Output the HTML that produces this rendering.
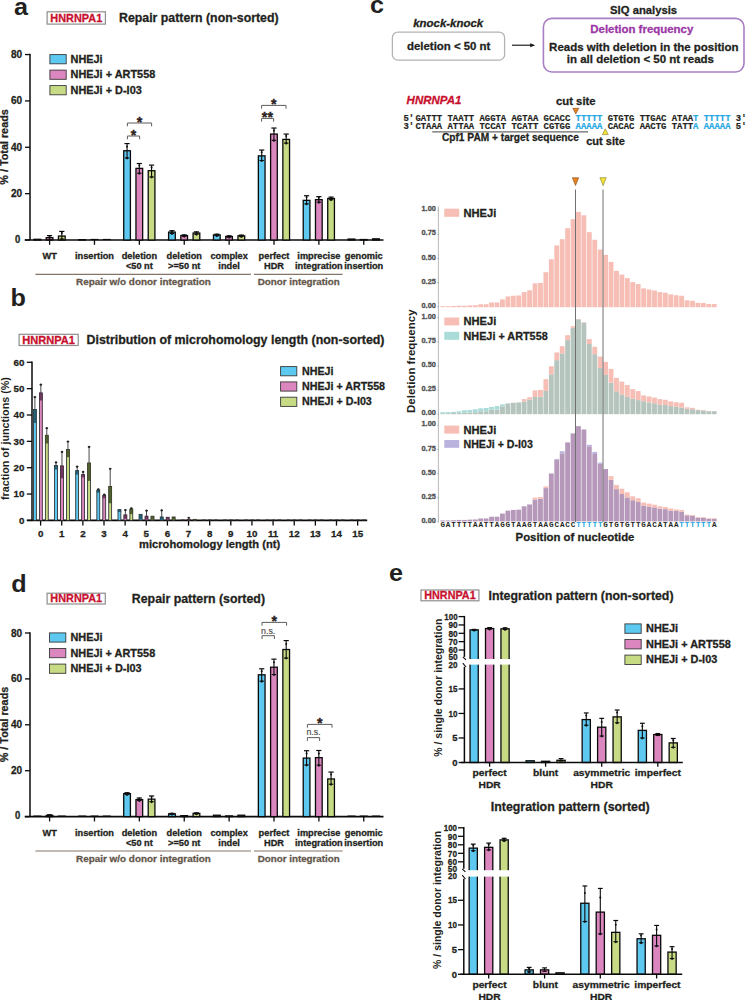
<!DOCTYPE html>
<html><head><meta charset="utf-8"><style>
html,body{margin:0;padding:0;background:#fff;}
svg{display:block;}

</style></head><body>
<svg width="751" height="1000" viewBox="0 0 751 1000">
<rect x="0" y="0" width="751" height="1000" fill="#fff"/>
<text transform="translate(14.00,14.60) scale(1.05,1)" font-size="24" font-weight="bold" fill="#231f20" text-anchor="start" font-family="Liberation Sans">a</text>
<text transform="translate(10.60,306.00) scale(1.05,1)" font-size="24" font-weight="bold" fill="#231f20" text-anchor="start" font-family="Liberation Sans">b</text>
<text transform="translate(370.00,13.20) scale(1.05,1)" font-size="24" font-weight="bold" fill="#231f20" text-anchor="start" font-family="Liberation Sans">c</text>
<text transform="translate(11.20,592.00) scale(1.05,1)" font-size="24" font-weight="bold" fill="#231f20" text-anchor="start" font-family="Liberation Sans">d</text>
<text transform="translate(389.00,581.20) scale(1.05,1)" font-size="24" font-weight="bold" fill="#231f20" text-anchor="start" font-family="Liberation Sans">e</text>
<line x1="30.00" y1="53.86" x2="30.00" y2="240.00" stroke="#0a0a0a" stroke-width="1.5" />
<line x1="25.00" y1="240.00" x2="30.00" y2="240.00" stroke="#0a0a0a" stroke-width="1.3" />
<text transform="translate(20.40,242.80) scale(0.95,1)" font-size="10.0" font-weight="bold" fill="#231f20" text-anchor="end" font-family="Liberation Sans" stroke="#231f20" stroke-width="0.28">0</text>
<line x1="25.00" y1="193.64" x2="30.00" y2="193.64" stroke="#0a0a0a" stroke-width="1.3" />
<text transform="translate(22.20,197.14) scale(1.05,1)" font-size="10.0" font-weight="bold" fill="#231f20" text-anchor="end" font-family="Liberation Sans" stroke="#231f20" stroke-width="0.28" textLength="10.67" lengthAdjust="spacingAndGlyphs">20</text>
<line x1="25.00" y1="147.28" x2="30.00" y2="147.28" stroke="#0a0a0a" stroke-width="1.3" />
<text transform="translate(22.20,150.78) scale(1.05,1)" font-size="10.0" font-weight="bold" fill="#231f20" text-anchor="end" font-family="Liberation Sans" stroke="#231f20" stroke-width="0.28" textLength="10.67" lengthAdjust="spacingAndGlyphs">40</text>
<line x1="25.00" y1="100.92" x2="30.00" y2="100.92" stroke="#0a0a0a" stroke-width="1.3" />
<text transform="translate(22.20,104.42) scale(1.05,1)" font-size="10.0" font-weight="bold" fill="#231f20" text-anchor="end" font-family="Liberation Sans" stroke="#231f20" stroke-width="0.28" textLength="10.67" lengthAdjust="spacingAndGlyphs">60</text>
<line x1="25.00" y1="54.56" x2="30.00" y2="54.56" stroke="#0a0a0a" stroke-width="1.3" />
<text transform="translate(22.20,58.06) scale(1.05,1)" font-size="10.0" font-weight="bold" fill="#231f20" text-anchor="end" font-family="Liberation Sans" stroke="#231f20" stroke-width="0.28" textLength="10.67" lengthAdjust="spacingAndGlyphs">80</text>
<line x1="24.70" y1="240.00" x2="383.50" y2="240.00" stroke="#0a0a0a" stroke-width="1.6" />
<line x1="49.60" y1="240.00" x2="49.60" y2="244.80" stroke="#0a0a0a" stroke-width="1.3" />
<line x1="94.48" y1="240.00" x2="94.48" y2="244.80" stroke="#0a0a0a" stroke-width="1.3" />
<line x1="139.36" y1="240.00" x2="139.36" y2="244.80" stroke="#0a0a0a" stroke-width="1.3" />
<line x1="184.24" y1="240.00" x2="184.24" y2="244.80" stroke="#0a0a0a" stroke-width="1.3" />
<line x1="229.12" y1="240.00" x2="229.12" y2="244.80" stroke="#0a0a0a" stroke-width="1.3" />
<line x1="274.00" y1="240.00" x2="274.00" y2="244.80" stroke="#0a0a0a" stroke-width="1.3" />
<line x1="318.88" y1="240.00" x2="318.88" y2="244.80" stroke="#0a0a0a" stroke-width="1.3" />
<line x1="363.76" y1="240.00" x2="363.76" y2="244.80" stroke="#0a0a0a" stroke-width="1.3" />
<text transform="translate(49.60,259.00) scale(1.05,1)" font-size="8.8" font-weight="bold" fill="#231f20" text-anchor="middle" font-family="Liberation Sans" stroke="#231f20" stroke-width="0.28">WT</text>
<text transform="translate(94.48,259.00) scale(1.05,1)" font-size="8.8" font-weight="bold" fill="#231f20" text-anchor="middle" font-family="Liberation Sans" stroke="#231f20" stroke-width="0.28">insertion</text>
<text transform="translate(139.36,259.00) scale(1.05,1)" font-size="8.8" font-weight="bold" fill="#231f20" text-anchor="middle" font-family="Liberation Sans" stroke="#231f20" stroke-width="0.28">deletion</text>
<text transform="translate(139.36,269.40) scale(1.05,1)" font-size="8.8" font-weight="bold" fill="#231f20" text-anchor="middle" font-family="Liberation Sans" stroke="#231f20" stroke-width="0.28">&lt;50 nt</text>
<text transform="translate(184.24,259.00) scale(1.05,1)" font-size="8.8" font-weight="bold" fill="#231f20" text-anchor="middle" font-family="Liberation Sans" stroke="#231f20" stroke-width="0.28">deletion</text>
<text transform="translate(184.24,269.40) scale(1.05,1)" font-size="8.8" font-weight="bold" fill="#231f20" text-anchor="middle" font-family="Liberation Sans" stroke="#231f20" stroke-width="0.28">&gt;=50 nt</text>
<text transform="translate(229.12,259.00) scale(1.05,1)" font-size="8.8" font-weight="bold" fill="#231f20" text-anchor="middle" font-family="Liberation Sans" stroke="#231f20" stroke-width="0.28">complex</text>
<text transform="translate(229.12,269.40) scale(1.05,1)" font-size="8.8" font-weight="bold" fill="#231f20" text-anchor="middle" font-family="Liberation Sans" stroke="#231f20" stroke-width="0.28">indel</text>
<text transform="translate(274.00,259.00) scale(1.05,1)" font-size="8.8" font-weight="bold" fill="#231f20" text-anchor="middle" font-family="Liberation Sans" stroke="#231f20" stroke-width="0.28">perfect</text>
<text transform="translate(274.00,269.40) scale(1.05,1)" font-size="8.8" font-weight="bold" fill="#231f20" text-anchor="middle" font-family="Liberation Sans" stroke="#231f20" stroke-width="0.28">HDR</text>
<text transform="translate(318.88,259.00) scale(1.05,1)" font-size="8.8" font-weight="bold" fill="#231f20" text-anchor="middle" font-family="Liberation Sans" stroke="#231f20" stroke-width="0.28">imprecise</text>
<text transform="translate(318.88,269.40) scale(1.05,1)" font-size="8.8" font-weight="bold" fill="#231f20" text-anchor="middle" font-family="Liberation Sans" stroke="#231f20" stroke-width="0.28">integration</text>
<text transform="translate(363.76,259.00) scale(1.05,1)" font-size="8.8" font-weight="bold" fill="#231f20" text-anchor="middle" font-family="Liberation Sans" stroke="#231f20" stroke-width="0.28">genomic</text>
<text transform="translate(363.76,269.40) scale(1.05,1)" font-size="8.8" font-weight="bold" fill="#231f20" text-anchor="middle" font-family="Liberation Sans" stroke="#231f20" stroke-width="0.28">insertion</text>
<line x1="35.40" y1="274.40" x2="250.80" y2="274.40" stroke="#837567" stroke-width="1.2" />
<line x1="254.00" y1="274.40" x2="342.60" y2="274.40" stroke="#837567" stroke-width="1.2" />
<text transform="translate(143.40,285.20) scale(1.05,1)" font-size="9.6" font-weight="bold" fill="#64574b" text-anchor="middle" font-family="Liberation Sans" stroke="#64574b" stroke-width="0.28" textLength="128.38" lengthAdjust="spacingAndGlyphs">Repair w/o donor integration</text>
<text transform="translate(298.70,285.20) scale(1.05,1)" font-size="9.6" font-weight="bold" fill="#64574b" text-anchor="middle" font-family="Liberation Sans" stroke="#64574b" stroke-width="0.28" textLength="78.19" lengthAdjust="spacingAndGlyphs">Donor integration</text>
<rect x="33.95" y="239.30" width="6.70" height="0.70" fill="#5dc9f0" stroke="#0a0a0a" stroke-width="1.3" />
<rect x="46.20" y="237.68" width="6.70" height="2.32" fill="#db86bf" stroke="#0a0a0a" stroke-width="1.3" />
<line x1="49.55" y1="235.60" x2="49.55" y2="239.54" stroke="#0a0a0a" stroke-width="1.1" />
<line x1="46.95" y1="235.60" x2="52.15" y2="235.60" stroke="#0a0a0a" stroke-width="1.2" />
<line x1="47.35" y1="239.54" x2="51.75" y2="239.54" stroke="#0a0a0a" stroke-width="1.1" />
<circle cx="49.55" cy="239.84" r="1.15" fill="#111"/>
<circle cx="49.55" cy="236.38" r="1.0" fill="#111"/>
<rect x="58.45" y="236.06" width="6.70" height="3.94" fill="#c7db84" stroke="#0a0a0a" stroke-width="1.3" />
<line x1="61.80" y1="231.42" x2="61.80" y2="239.07" stroke="#0a0a0a" stroke-width="1.1" />
<line x1="59.20" y1="231.42" x2="64.40" y2="231.42" stroke="#0a0a0a" stroke-width="1.2" />
<line x1="59.60" y1="239.07" x2="64.00" y2="239.07" stroke="#0a0a0a" stroke-width="1.1" />
<circle cx="61.80" cy="239.37" r="1.15" fill="#111"/>
<circle cx="61.80" cy="232.95" r="1.0" fill="#111"/>
<rect x="78.83" y="239.65" width="6.70" height="0.35" fill="#5dc9f0" stroke="#0a0a0a" stroke-width="1.3" />
<line x1="90.48" y1="239.50" x2="98.48" y2="239.50" stroke="#0a0a0a" stroke-width="1.2" />
<line x1="102.73" y1="239.50" x2="110.73" y2="239.50" stroke="#0a0a0a" stroke-width="1.2" />
<rect x="123.71" y="150.76" width="6.70" height="89.24" fill="#5dc9f0" stroke="#0a0a0a" stroke-width="1.3" />
<line x1="127.06" y1="143.57" x2="127.06" y2="157.94" stroke="#0a0a0a" stroke-width="1.1" />
<line x1="124.46" y1="143.57" x2="129.66" y2="143.57" stroke="#0a0a0a" stroke-width="1.2" />
<line x1="124.86" y1="157.94" x2="129.26" y2="157.94" stroke="#0a0a0a" stroke-width="1.1" />
<circle cx="127.06" cy="158.24" r="1.15" fill="#111"/>
<circle cx="127.06" cy="146.45" r="1.0" fill="#111"/>
<rect x="135.96" y="168.37" width="6.70" height="71.63" fill="#db86bf" stroke="#0a0a0a" stroke-width="1.3" />
<line x1="139.31" y1="163.51" x2="139.31" y2="173.24" stroke="#0a0a0a" stroke-width="1.1" />
<line x1="136.71" y1="163.51" x2="141.91" y2="163.51" stroke="#0a0a0a" stroke-width="1.2" />
<line x1="137.11" y1="173.24" x2="141.51" y2="173.24" stroke="#0a0a0a" stroke-width="1.1" />
<circle cx="139.31" cy="173.54" r="1.15" fill="#111"/>
<circle cx="139.31" cy="165.45" r="1.0" fill="#111"/>
<rect x="148.21" y="170.69" width="6.70" height="69.31" fill="#c7db84" stroke="#0a0a0a" stroke-width="1.3" />
<line x1="151.56" y1="165.13" x2="151.56" y2="176.95" stroke="#0a0a0a" stroke-width="1.1" />
<line x1="148.96" y1="165.13" x2="154.16" y2="165.13" stroke="#0a0a0a" stroke-width="1.2" />
<line x1="149.36" y1="176.95" x2="153.76" y2="176.95" stroke="#0a0a0a" stroke-width="1.1" />
<circle cx="151.56" cy="177.25" r="1.15" fill="#111"/>
<circle cx="151.56" cy="167.49" r="1.0" fill="#111"/>
<rect x="168.59" y="232.12" width="6.70" height="7.88" fill="#5dc9f0" stroke="#0a0a0a" stroke-width="1.3" />
<line x1="171.94" y1="230.73" x2="171.94" y2="233.51" stroke="#0a0a0a" stroke-width="1.1" />
<line x1="169.34" y1="230.73" x2="174.54" y2="230.73" stroke="#0a0a0a" stroke-width="1.2" />
<line x1="169.74" y1="233.51" x2="174.14" y2="233.51" stroke="#0a0a0a" stroke-width="1.1" />
<circle cx="171.94" cy="233.81" r="1.15" fill="#111"/>
<circle cx="171.94" cy="231.28" r="1.0" fill="#111"/>
<rect x="180.84" y="235.60" width="6.70" height="4.40" fill="#db86bf" stroke="#0a0a0a" stroke-width="1.3" />
<line x1="184.19" y1="234.90" x2="184.19" y2="236.29" stroke="#0a0a0a" stroke-width="1.1" />
<line x1="181.59" y1="234.90" x2="186.79" y2="234.90" stroke="#0a0a0a" stroke-width="1.2" />
<line x1="181.99" y1="236.29" x2="186.39" y2="236.29" stroke="#0a0a0a" stroke-width="1.1" />
<circle cx="184.19" cy="236.59" r="1.15" fill="#111"/>
<circle cx="184.19" cy="235.18" r="1.0" fill="#111"/>
<rect x="193.09" y="233.05" width="6.70" height="6.95" fill="#c7db84" stroke="#0a0a0a" stroke-width="1.3" />
<line x1="196.44" y1="231.89" x2="196.44" y2="234.21" stroke="#0a0a0a" stroke-width="1.1" />
<line x1="193.84" y1="231.89" x2="199.04" y2="231.89" stroke="#0a0a0a" stroke-width="1.2" />
<line x1="194.24" y1="234.21" x2="198.64" y2="234.21" stroke="#0a0a0a" stroke-width="1.1" />
<circle cx="196.44" cy="234.51" r="1.15" fill="#111"/>
<circle cx="196.44" cy="232.35" r="1.0" fill="#111"/>
<rect x="213.47" y="234.90" width="6.70" height="5.10" fill="#5dc9f0" stroke="#0a0a0a" stroke-width="1.3" />
<line x1="216.82" y1="234.21" x2="216.82" y2="235.60" stroke="#0a0a0a" stroke-width="1.1" />
<line x1="214.22" y1="234.21" x2="219.42" y2="234.21" stroke="#0a0a0a" stroke-width="1.2" />
<line x1="214.62" y1="235.60" x2="219.02" y2="235.60" stroke="#0a0a0a" stroke-width="1.1" />
<circle cx="216.82" cy="235.90" r="1.15" fill="#111"/>
<circle cx="216.82" cy="234.48" r="1.0" fill="#111"/>
<rect x="225.72" y="236.52" width="6.70" height="3.48" fill="#db86bf" stroke="#0a0a0a" stroke-width="1.3" />
<line x1="229.07" y1="235.83" x2="229.07" y2="237.22" stroke="#0a0a0a" stroke-width="1.1" />
<line x1="226.47" y1="235.83" x2="231.67" y2="235.83" stroke="#0a0a0a" stroke-width="1.2" />
<line x1="226.87" y1="237.22" x2="231.27" y2="237.22" stroke="#0a0a0a" stroke-width="1.1" />
<circle cx="229.07" cy="237.52" r="1.15" fill="#111"/>
<circle cx="229.07" cy="236.11" r="1.0" fill="#111"/>
<rect x="237.97" y="235.83" width="6.70" height="4.17" fill="#c7db84" stroke="#0a0a0a" stroke-width="1.3" />
<line x1="241.32" y1="235.13" x2="241.32" y2="236.52" stroke="#0a0a0a" stroke-width="1.1" />
<line x1="238.72" y1="235.13" x2="243.92" y2="235.13" stroke="#0a0a0a" stroke-width="1.2" />
<line x1="239.12" y1="236.52" x2="243.52" y2="236.52" stroke="#0a0a0a" stroke-width="1.1" />
<circle cx="241.32" cy="236.82" r="1.15" fill="#111"/>
<circle cx="241.32" cy="235.41" r="1.0" fill="#111"/>
<rect x="258.35" y="155.86" width="6.70" height="84.14" fill="#5dc9f0" stroke="#0a0a0a" stroke-width="1.3" />
<line x1="261.70" y1="150.06" x2="261.70" y2="160.49" stroke="#0a0a0a" stroke-width="1.1" />
<line x1="259.10" y1="150.06" x2="264.30" y2="150.06" stroke="#0a0a0a" stroke-width="1.2" />
<line x1="259.50" y1="160.49" x2="263.90" y2="160.49" stroke="#0a0a0a" stroke-width="1.1" />
<circle cx="261.70" cy="160.79" r="1.15" fill="#111"/>
<circle cx="261.70" cy="152.15" r="1.0" fill="#111"/>
<rect x="270.60" y="134.07" width="6.70" height="105.93" fill="#db86bf" stroke="#0a0a0a" stroke-width="1.3" />
<line x1="273.95" y1="128.04" x2="273.95" y2="140.33" stroke="#0a0a0a" stroke-width="1.1" />
<line x1="271.35" y1="128.04" x2="276.55" y2="128.04" stroke="#0a0a0a" stroke-width="1.2" />
<line x1="271.75" y1="140.33" x2="276.15" y2="140.33" stroke="#0a0a0a" stroke-width="1.1" />
<circle cx="273.95" cy="140.63" r="1.15" fill="#111"/>
<circle cx="273.95" cy="130.50" r="1.0" fill="#111"/>
<rect x="282.85" y="139.40" width="6.70" height="100.60" fill="#c7db84" stroke="#0a0a0a" stroke-width="1.3" />
<line x1="286.20" y1="134.07" x2="286.20" y2="143.11" stroke="#0a0a0a" stroke-width="1.1" />
<line x1="283.60" y1="134.07" x2="288.80" y2="134.07" stroke="#0a0a0a" stroke-width="1.2" />
<line x1="284.00" y1="143.11" x2="288.40" y2="143.11" stroke="#0a0a0a" stroke-width="1.1" />
<circle cx="286.20" cy="143.41" r="1.15" fill="#111"/>
<circle cx="286.20" cy="135.88" r="1.0" fill="#111"/>
<rect x="303.23" y="200.36" width="6.70" height="39.64" fill="#5dc9f0" stroke="#0a0a0a" stroke-width="1.3" />
<line x1="306.58" y1="195.73" x2="306.58" y2="203.84" stroke="#0a0a0a" stroke-width="1.1" />
<line x1="303.98" y1="195.73" x2="309.18" y2="195.73" stroke="#0a0a0a" stroke-width="1.2" />
<line x1="304.38" y1="203.84" x2="308.78" y2="203.84" stroke="#0a0a0a" stroke-width="1.1" />
<circle cx="306.58" cy="204.14" r="1.15" fill="#111"/>
<circle cx="306.58" cy="197.35" r="1.0" fill="#111"/>
<rect x="315.48" y="199.67" width="6.70" height="40.33" fill="#db86bf" stroke="#0a0a0a" stroke-width="1.3" />
<line x1="318.83" y1="196.65" x2="318.83" y2="202.22" stroke="#0a0a0a" stroke-width="1.1" />
<line x1="316.23" y1="196.65" x2="321.43" y2="196.65" stroke="#0a0a0a" stroke-width="1.2" />
<line x1="316.63" y1="202.22" x2="321.03" y2="202.22" stroke="#0a0a0a" stroke-width="1.1" />
<circle cx="318.83" cy="202.52" r="1.15" fill="#111"/>
<circle cx="318.83" cy="197.77" r="1.0" fill="#111"/>
<rect x="327.73" y="198.51" width="6.70" height="41.49" fill="#c7db84" stroke="#0a0a0a" stroke-width="1.3" />
<line x1="331.08" y1="197.12" x2="331.08" y2="199.67" stroke="#0a0a0a" stroke-width="1.1" />
<line x1="328.48" y1="197.12" x2="333.68" y2="197.12" stroke="#0a0a0a" stroke-width="1.2" />
<line x1="328.88" y1="199.67" x2="333.28" y2="199.67" stroke="#0a0a0a" stroke-width="1.1" />
<circle cx="331.08" cy="199.97" r="1.15" fill="#111"/>
<circle cx="331.08" cy="197.63" r="1.0" fill="#111"/>
<rect x="348.11" y="239.07" width="6.70" height="0.93" fill="#5dc9f0" stroke="#0a0a0a" stroke-width="1.3" />
<rect x="360.36" y="239.54" width="6.70" height="0.46" fill="#db86bf" stroke="#0a0a0a" stroke-width="1.3" />
<rect x="372.61" y="238.84" width="6.70" height="1.16" fill="#c7db84" stroke="#0a0a0a" stroke-width="1.3" />
<polyline points="127.40,139.30 127.40,136.00 139.60,136.00 139.60,139.30" fill="none" stroke="#5c5c5c" stroke-width="1.0"/>
<text x="133.50" y="140.00" font-size="14.2" font-weight="bold" fill="#2b2222" text-anchor="middle" font-family="Liberation Sans" stroke="#2b2222" stroke-width="0.35">*</text>
<polyline points="127.40,126.30 127.40,123.00 151.60,123.00 151.60,126.30" fill="none" stroke="#5c5c5c" stroke-width="1.0"/>
<text x="139.50" y="127.00" font-size="14.2" font-weight="bold" fill="#2b2222" text-anchor="middle" font-family="Liberation Sans" stroke="#2b2222" stroke-width="0.35">*</text>
<polyline points="261.60,121.70 261.60,118.40 273.60,118.40 273.60,121.70" fill="none" stroke="#5c5c5c" stroke-width="1.0"/>
<text x="267.60" y="122.40" font-size="14.2" font-weight="bold" fill="#2b2222" text-anchor="middle" font-family="Liberation Sans" stroke="#2b2222" stroke-width="0.35" letter-spacing="0.4">**</text>
<polyline points="261.60,108.70 261.60,105.40 286.00,105.40 286.00,108.70" fill="none" stroke="#5c5c5c" stroke-width="1.0"/>
<text x="273.80" y="109.40" font-size="14.2" font-weight="bold" fill="#2b2222" text-anchor="middle" font-family="Liberation Sans" stroke="#2b2222" stroke-width="0.35">*</text>
<text transform="translate(8.2,146.98) rotate(-90)" font-size="10.6" font-weight="bold" fill="#231f20" stroke="#231f20" stroke-width="0.25" text-anchor="middle" font-family="Liberation Sans" textLength="75.5" lengthAdjust="spacingAndGlyphs">% / Total reads</text>
<rect x="47.10" y="11.80" width="58.30" height="12.30" fill="#fff" stroke="#8e8e8e" stroke-width="1.2" />
<text transform="translate(76.25,22.30) scale(1.05,1)" font-size="11.8" font-weight="bold" fill="#c8102e" text-anchor="middle" font-family="Liberation Sans" stroke="#c8102e" stroke-width="0.28" textLength="49.43" lengthAdjust="spacingAndGlyphs">HNRNPA1</text>
<text transform="translate(119.00,21.60) scale(1.05,1)" font-size="12.2" font-weight="bold" fill="#231f20" text-anchor="start" font-family="Liberation Sans" stroke="#231f20" stroke-width="0.28" textLength="152.00" lengthAdjust="spacingAndGlyphs">Repair pattern (non-sorted)</text>
<rect x="49.90" y="54.60" width="16.30" height="9.20" fill="#5dc9f0" stroke="#3a3a3a" stroke-width="0.9" />
<text transform="translate(70.50,62.70) scale(1.05,1)" font-size="10.4" font-weight="bold" fill="#231f20" text-anchor="start" font-family="Liberation Sans" stroke="#231f20" stroke-width="0.28">NHEJi</text>
<rect x="49.90" y="70.10" width="16.30" height="9.20" fill="#db86bf" stroke="#3a3a3a" stroke-width="0.9" />
<text transform="translate(70.50,78.20) scale(1.05,1)" font-size="10.4" font-weight="bold" fill="#231f20" text-anchor="start" font-family="Liberation Sans" stroke="#231f20" stroke-width="0.28">NHEJi + ART558</text>
<rect x="49.90" y="85.60" width="16.30" height="9.20" fill="#c7db84" stroke="#3a3a3a" stroke-width="0.9" />
<text transform="translate(70.50,93.70) scale(1.05,1)" font-size="10.4" font-weight="bold" fill="#231f20" text-anchor="start" font-family="Liberation Sans" stroke="#231f20" stroke-width="0.28">NHEJi + D-I03</text>
<line x1="32.00" y1="361.60" x2="32.00" y2="520.40" stroke="#0a0a0a" stroke-width="1.5" />
<line x1="26.80" y1="520.40" x2="32.00" y2="520.40" stroke="#0a0a0a" stroke-width="1.3" />
<text transform="translate(24.40,523.70) scale(1.05,1)" font-size="9.3" font-weight="bold" fill="#231f20" text-anchor="end" font-family="Liberation Sans" stroke="#231f20" stroke-width="0.28">0</text>
<line x1="26.80" y1="494.05" x2="32.00" y2="494.05" stroke="#0a0a0a" stroke-width="1.3" />
<text transform="translate(24.40,497.35) scale(1.05,1)" font-size="9.3" font-weight="bold" fill="#231f20" text-anchor="end" font-family="Liberation Sans" stroke="#231f20" stroke-width="0.28">10</text>
<line x1="26.80" y1="467.70" x2="32.00" y2="467.70" stroke="#0a0a0a" stroke-width="1.3" />
<text transform="translate(24.40,471.00) scale(1.05,1)" font-size="9.3" font-weight="bold" fill="#231f20" text-anchor="end" font-family="Liberation Sans" stroke="#231f20" stroke-width="0.28">20</text>
<line x1="26.80" y1="441.35" x2="32.00" y2="441.35" stroke="#0a0a0a" stroke-width="1.3" />
<text transform="translate(24.40,444.65) scale(1.05,1)" font-size="9.3" font-weight="bold" fill="#231f20" text-anchor="end" font-family="Liberation Sans" stroke="#231f20" stroke-width="0.28">30</text>
<line x1="26.80" y1="415.00" x2="32.00" y2="415.00" stroke="#0a0a0a" stroke-width="1.3" />
<text transform="translate(24.40,418.30) scale(1.05,1)" font-size="9.3" font-weight="bold" fill="#231f20" text-anchor="end" font-family="Liberation Sans" stroke="#231f20" stroke-width="0.28">40</text>
<line x1="26.80" y1="388.65" x2="32.00" y2="388.65" stroke="#0a0a0a" stroke-width="1.3" />
<text transform="translate(24.40,391.95) scale(1.05,1)" font-size="9.3" font-weight="bold" fill="#231f20" text-anchor="end" font-family="Liberation Sans" stroke="#231f20" stroke-width="0.28">50</text>
<line x1="26.80" y1="362.30" x2="32.00" y2="362.30" stroke="#0a0a0a" stroke-width="1.3" />
<text transform="translate(24.40,365.60) scale(1.05,1)" font-size="9.3" font-weight="bold" fill="#231f20" text-anchor="end" font-family="Liberation Sans" stroke="#231f20" stroke-width="0.28">60</text>
<line x1="26.90" y1="520.40" x2="367.20" y2="520.40" stroke="#0a0a0a" stroke-width="1.6" />
<line x1="40.60" y1="520.40" x2="40.60" y2="525.60" stroke="#0a0a0a" stroke-width="1.3" />
<text transform="translate(40.60,536.50) scale(1.05,1)" font-size="9.3" font-weight="bold" fill="#231f20" text-anchor="middle" font-family="Liberation Sans" stroke="#231f20" stroke-width="0.28">0</text>
<line x1="61.73" y1="520.40" x2="61.73" y2="525.60" stroke="#0a0a0a" stroke-width="1.3" />
<text transform="translate(61.73,536.50) scale(1.05,1)" font-size="9.3" font-weight="bold" fill="#231f20" text-anchor="middle" font-family="Liberation Sans" stroke="#231f20" stroke-width="0.28">1</text>
<line x1="82.87" y1="520.40" x2="82.87" y2="525.60" stroke="#0a0a0a" stroke-width="1.3" />
<text transform="translate(82.87,536.50) scale(1.05,1)" font-size="9.3" font-weight="bold" fill="#231f20" text-anchor="middle" font-family="Liberation Sans" stroke="#231f20" stroke-width="0.28">2</text>
<line x1="104.00" y1="520.40" x2="104.00" y2="525.60" stroke="#0a0a0a" stroke-width="1.3" />
<text transform="translate(104.00,536.50) scale(1.05,1)" font-size="9.3" font-weight="bold" fill="#231f20" text-anchor="middle" font-family="Liberation Sans" stroke="#231f20" stroke-width="0.28">3</text>
<line x1="125.14" y1="520.40" x2="125.14" y2="525.60" stroke="#0a0a0a" stroke-width="1.3" />
<text transform="translate(125.14,536.50) scale(1.05,1)" font-size="9.3" font-weight="bold" fill="#231f20" text-anchor="middle" font-family="Liberation Sans" stroke="#231f20" stroke-width="0.28">4</text>
<line x1="146.28" y1="520.40" x2="146.28" y2="525.60" stroke="#0a0a0a" stroke-width="1.3" />
<text transform="translate(146.28,536.50) scale(1.05,1)" font-size="9.3" font-weight="bold" fill="#231f20" text-anchor="middle" font-family="Liberation Sans" stroke="#231f20" stroke-width="0.28">5</text>
<line x1="167.41" y1="520.40" x2="167.41" y2="525.60" stroke="#0a0a0a" stroke-width="1.3" />
<text transform="translate(167.41,536.50) scale(1.05,1)" font-size="9.3" font-weight="bold" fill="#231f20" text-anchor="middle" font-family="Liberation Sans" stroke="#231f20" stroke-width="0.28">6</text>
<line x1="188.55" y1="520.40" x2="188.55" y2="525.60" stroke="#0a0a0a" stroke-width="1.3" />
<text transform="translate(188.55,536.50) scale(1.05,1)" font-size="9.3" font-weight="bold" fill="#231f20" text-anchor="middle" font-family="Liberation Sans" stroke="#231f20" stroke-width="0.28">7</text>
<line x1="209.68" y1="520.40" x2="209.68" y2="525.60" stroke="#0a0a0a" stroke-width="1.3" />
<text transform="translate(209.68,536.50) scale(1.05,1)" font-size="9.3" font-weight="bold" fill="#231f20" text-anchor="middle" font-family="Liberation Sans" stroke="#231f20" stroke-width="0.28">8</text>
<line x1="230.81" y1="520.40" x2="230.81" y2="525.60" stroke="#0a0a0a" stroke-width="1.3" />
<text transform="translate(230.81,536.50) scale(1.05,1)" font-size="9.3" font-weight="bold" fill="#231f20" text-anchor="middle" font-family="Liberation Sans" stroke="#231f20" stroke-width="0.28">9</text>
<line x1="251.95" y1="520.40" x2="251.95" y2="525.60" stroke="#0a0a0a" stroke-width="1.3" />
<text transform="translate(251.95,536.50) scale(1.05,1)" font-size="9.3" font-weight="bold" fill="#231f20" text-anchor="middle" font-family="Liberation Sans" stroke="#231f20" stroke-width="0.28">10</text>
<line x1="273.09" y1="520.40" x2="273.09" y2="525.60" stroke="#0a0a0a" stroke-width="1.3" />
<text transform="translate(273.09,536.50) scale(1.05,1)" font-size="9.3" font-weight="bold" fill="#231f20" text-anchor="middle" font-family="Liberation Sans" stroke="#231f20" stroke-width="0.28">11</text>
<line x1="294.22" y1="520.40" x2="294.22" y2="525.60" stroke="#0a0a0a" stroke-width="1.3" />
<text transform="translate(294.22,536.50) scale(1.05,1)" font-size="9.3" font-weight="bold" fill="#231f20" text-anchor="middle" font-family="Liberation Sans" stroke="#231f20" stroke-width="0.28">12</text>
<line x1="315.36" y1="520.40" x2="315.36" y2="525.60" stroke="#0a0a0a" stroke-width="1.3" />
<text transform="translate(315.36,536.50) scale(1.05,1)" font-size="9.3" font-weight="bold" fill="#231f20" text-anchor="middle" font-family="Liberation Sans" stroke="#231f20" stroke-width="0.28">13</text>
<line x1="336.49" y1="520.40" x2="336.49" y2="525.60" stroke="#0a0a0a" stroke-width="1.3" />
<text transform="translate(336.49,536.50) scale(1.05,1)" font-size="9.3" font-weight="bold" fill="#231f20" text-anchor="middle" font-family="Liberation Sans" stroke="#231f20" stroke-width="0.28">14</text>
<line x1="357.63" y1="520.40" x2="357.63" y2="525.60" stroke="#0a0a0a" stroke-width="1.3" />
<text transform="translate(357.63,536.50) scale(1.05,1)" font-size="9.3" font-weight="bold" fill="#231f20" text-anchor="middle" font-family="Liberation Sans" stroke="#231f20" stroke-width="0.28">15</text>
<text transform="translate(209.60,548.30) scale(1.05,1)" font-size="10.6" font-weight="bold" fill="#231f20" text-anchor="middle" font-family="Liberation Sans" stroke="#231f20" stroke-width="0.28" textLength="134.29" lengthAdjust="spacingAndGlyphs">microhomology length (nt)</text>
<text transform="translate(9.3,438.6) rotate(-90)" font-size="10.6" font-weight="bold" fill="#231f20" text-anchor="middle" font-family="Liberation Sans" textLength="123" lengthAdjust="spacingAndGlyphs">fraction of junctions (%)</text>
<rect x="33.45" y="409.47" width="2.90" height="110.93" fill="#5dc9f0" stroke="#222" stroke-width="0.8" />
<rect x="33.25" y="409.47" width="3.30" height="13.44" fill="#1f4e5e" stroke="none" stroke-width="1" opacity="0.85"/>
<line x1="34.90" y1="397.08" x2="34.90" y2="409.47" stroke="#333" stroke-width="0.9" />
<line x1="33.60" y1="397.08" x2="36.20" y2="397.08" stroke="#333" stroke-width="0.9" />
<circle cx="34.90" cy="397.08" r="1.1" fill="#222"/>
<rect x="39.40" y="392.87" width="2.90" height="127.53" fill="#db86bf" stroke="#222" stroke-width="0.8" />
<rect x="39.20" y="392.87" width="3.30" height="7.64" fill="#5a2c4d" stroke="none" stroke-width="1" opacity="0.85"/>
<line x1="40.85" y1="384.70" x2="40.85" y2="392.87" stroke="#333" stroke-width="0.9" />
<line x1="39.55" y1="384.70" x2="42.15" y2="384.70" stroke="#333" stroke-width="0.9" />
<circle cx="40.85" cy="384.70" r="1.1" fill="#222"/>
<rect x="45.35" y="435.29" width="2.90" height="85.11" fill="#c7db84" stroke="#222" stroke-width="0.8" />
<rect x="45.15" y="435.29" width="3.30" height="8.17" fill="#3c4a22" stroke="none" stroke-width="1" opacity="0.85"/>
<line x1="46.80" y1="428.17" x2="46.80" y2="435.29" stroke="#333" stroke-width="0.9" />
<line x1="45.50" y1="428.17" x2="48.10" y2="428.17" stroke="#333" stroke-width="0.9" />
<circle cx="46.80" cy="428.17" r="1.1" fill="#222"/>
<rect x="54.58" y="465.59" width="2.90" height="54.81" fill="#5dc9f0" stroke="#222" stroke-width="0.8" />
<rect x="54.38" y="465.59" width="3.30" height="3.95" fill="#1f4e5e" stroke="none" stroke-width="1" opacity="0.85"/>
<line x1="56.03" y1="462.43" x2="56.03" y2="465.59" stroke="#333" stroke-width="0.9" />
<line x1="54.73" y1="462.43" x2="57.33" y2="462.43" stroke="#333" stroke-width="0.9" />
<circle cx="56.03" cy="462.43" r="1.1" fill="#222"/>
<rect x="60.53" y="465.86" width="2.90" height="54.54" fill="#db86bf" stroke="#222" stroke-width="0.8" />
<rect x="60.33" y="465.86" width="3.30" height="12.38" fill="#5a2c4d" stroke="none" stroke-width="1" opacity="0.85"/>
<line x1="61.98" y1="451.89" x2="61.98" y2="465.86" stroke="#333" stroke-width="0.9" />
<line x1="60.69" y1="451.89" x2="63.28" y2="451.89" stroke="#333" stroke-width="0.9" />
<circle cx="61.98" cy="451.89" r="1.1" fill="#222"/>
<rect x="66.48" y="449.52" width="2.90" height="70.88" fill="#c7db84" stroke="#222" stroke-width="0.8" />
<rect x="66.28" y="449.52" width="3.30" height="7.64" fill="#3c4a22" stroke="none" stroke-width="1" opacity="0.85"/>
<line x1="67.94" y1="441.61" x2="67.94" y2="449.52" stroke="#333" stroke-width="0.9" />
<line x1="66.64" y1="441.61" x2="69.23" y2="441.61" stroke="#333" stroke-width="0.9" />
<circle cx="67.94" cy="441.61" r="1.1" fill="#222"/>
<rect x="75.72" y="470.60" width="2.90" height="49.80" fill="#5dc9f0" stroke="#222" stroke-width="0.8" />
<rect x="75.52" y="470.60" width="3.30" height="3.95" fill="#1f4e5e" stroke="none" stroke-width="1" opacity="0.85"/>
<line x1="77.17" y1="466.65" x2="77.17" y2="470.60" stroke="#333" stroke-width="0.9" />
<line x1="75.87" y1="466.65" x2="78.47" y2="466.65" stroke="#333" stroke-width="0.9" />
<circle cx="77.17" cy="466.65" r="1.1" fill="#222"/>
<rect x="81.67" y="474.55" width="2.90" height="45.85" fill="#db86bf" stroke="#222" stroke-width="0.8" />
<rect x="81.47" y="474.55" width="3.30" height="2.90" fill="#5a2c4d" stroke="none" stroke-width="1" opacity="0.85"/>
<line x1="83.12" y1="471.92" x2="83.12" y2="474.55" stroke="#333" stroke-width="0.9" />
<line x1="81.82" y1="471.92" x2="84.42" y2="471.92" stroke="#333" stroke-width="0.9" />
<circle cx="83.12" cy="471.92" r="1.1" fill="#222"/>
<rect x="87.62" y="462.96" width="2.90" height="57.44" fill="#c7db84" stroke="#222" stroke-width="0.8" />
<rect x="87.42" y="462.96" width="3.30" height="17.92" fill="#3c4a22" stroke="none" stroke-width="1" opacity="0.85"/>
<line x1="89.07" y1="446.88" x2="89.07" y2="462.96" stroke="#333" stroke-width="0.9" />
<line x1="87.77" y1="446.88" x2="90.37" y2="446.88" stroke="#333" stroke-width="0.9" />
<circle cx="89.07" cy="446.88" r="1.1" fill="#222"/>
<rect x="96.85" y="490.10" width="2.90" height="30.30" fill="#5dc9f0" stroke="#222" stroke-width="0.8" />
<rect x="96.65" y="490.10" width="3.30" height="2.63" fill="#1f4e5e" stroke="none" stroke-width="1" opacity="0.85"/>
<line x1="98.30" y1="489.31" x2="98.30" y2="490.10" stroke="#333" stroke-width="0.9" />
<line x1="97.00" y1="489.31" x2="99.60" y2="489.31" stroke="#333" stroke-width="0.9" />
<circle cx="98.30" cy="489.31" r="1.1" fill="#222"/>
<rect x="102.80" y="495.37" width="2.90" height="25.03" fill="#db86bf" stroke="#222" stroke-width="0.8" />
<rect x="102.60" y="495.37" width="3.30" height="2.90" fill="#5a2c4d" stroke="none" stroke-width="1" opacity="0.85"/>
<line x1="104.25" y1="494.58" x2="104.25" y2="495.37" stroke="#333" stroke-width="0.9" />
<line x1="102.95" y1="494.58" x2="105.55" y2="494.58" stroke="#333" stroke-width="0.9" />
<circle cx="104.25" cy="494.58" r="1.1" fill="#222"/>
<rect x="108.75" y="486.41" width="2.90" height="33.99" fill="#c7db84" stroke="#222" stroke-width="0.8" />
<rect x="108.55" y="486.41" width="3.30" height="16.86" fill="#3c4a22" stroke="none" stroke-width="1" opacity="0.85"/>
<line x1="110.20" y1="468.75" x2="110.20" y2="486.41" stroke="#333" stroke-width="0.9" />
<line x1="108.91" y1="468.75" x2="111.50" y2="468.75" stroke="#333" stroke-width="0.9" />
<circle cx="110.20" cy="468.75" r="1.1" fill="#222"/>
<rect x="117.99" y="509.60" width="2.90" height="10.80" fill="#5dc9f0" stroke="#222" stroke-width="0.8" />
<rect x="117.79" y="509.60" width="3.30" height="2.37" fill="#1f4e5e" stroke="none" stroke-width="1" opacity="0.85"/>
<rect x="123.94" y="514.87" width="2.90" height="5.53" fill="#db86bf" stroke="#222" stroke-width="0.8" />
<rect x="123.74" y="514.87" width="3.30" height="3.95" fill="#5a2c4d" stroke="none" stroke-width="1" opacity="0.85"/>
<line x1="125.39" y1="510.12" x2="125.39" y2="514.87" stroke="#333" stroke-width="0.9" />
<line x1="124.09" y1="510.12" x2="126.69" y2="510.12" stroke="#333" stroke-width="0.9" />
<circle cx="125.39" cy="510.12" r="1.1" fill="#222"/>
<rect x="129.89" y="509.07" width="2.90" height="11.33" fill="#c7db84" stroke="#222" stroke-width="0.8" />
<rect x="129.69" y="509.07" width="3.30" height="5.01" fill="#3c4a22" stroke="none" stroke-width="1" opacity="0.85"/>
<line x1="131.34" y1="508.28" x2="131.34" y2="509.07" stroke="#333" stroke-width="0.9" />
<line x1="130.04" y1="508.28" x2="132.64" y2="508.28" stroke="#333" stroke-width="0.9" />
<circle cx="131.34" cy="508.28" r="1.1" fill="#222"/>
<rect x="139.13" y="514.34" width="2.90" height="6.06" fill="#5dc9f0" stroke="#222" stroke-width="0.8" />
<rect x="138.93" y="514.34" width="3.30" height="5.27" fill="#1f4e5e" stroke="none" stroke-width="1" opacity="0.85"/>
<rect x="145.08" y="516.18" width="2.90" height="4.22" fill="#db86bf" stroke="#222" stroke-width="0.8" />
<rect x="144.88" y="516.18" width="3.30" height="3.43" fill="#5a2c4d" stroke="none" stroke-width="1" opacity="0.85"/>
<line x1="146.53" y1="510.65" x2="146.53" y2="516.18" stroke="#333" stroke-width="0.9" />
<line x1="145.22" y1="510.65" x2="147.83" y2="510.65" stroke="#333" stroke-width="0.9" />
<circle cx="146.53" cy="510.65" r="1.1" fill="#222"/>
<rect x="151.03" y="516.18" width="2.90" height="4.22" fill="#c7db84" stroke="#222" stroke-width="0.8" />
<rect x="150.83" y="516.18" width="3.30" height="3.69" fill="#3c4a22" stroke="none" stroke-width="1" opacity="0.85"/>
<rect x="160.26" y="516.97" width="2.90" height="3.43" fill="#5dc9f0" stroke="#222" stroke-width="0.8" />
<rect x="160.06" y="516.97" width="3.30" height="2.90" fill="#1f4e5e" stroke="none" stroke-width="1" opacity="0.85"/>
<line x1="161.71" y1="510.39" x2="161.71" y2="516.97" stroke="#333" stroke-width="0.9" />
<line x1="160.41" y1="510.39" x2="163.01" y2="510.39" stroke="#333" stroke-width="0.9" />
<circle cx="161.71" cy="510.39" r="1.1" fill="#222"/>
<rect x="166.21" y="517.24" width="2.90" height="3.16" fill="#db86bf" stroke="#222" stroke-width="0.8" />
<rect x="166.01" y="517.24" width="3.30" height="2.63" fill="#5a2c4d" stroke="none" stroke-width="1" opacity="0.85"/>
<rect x="172.16" y="516.97" width="2.90" height="3.43" fill="#c7db84" stroke="#222" stroke-width="0.8" />
<rect x="171.96" y="516.97" width="3.30" height="2.90" fill="#3c4a22" stroke="none" stroke-width="1" opacity="0.85"/>
<line x1="180.90" y1="519.80" x2="184.80" y2="519.80" stroke="#444" stroke-width="0.9" />
<rect x="187.35" y="519.35" width="2.90" height="1.05" fill="#db86bf" stroke="#222" stroke-width="0.8" />
<rect x="187.15" y="519.35" width="3.30" height="1.05" fill="#5a2c4d" stroke="none" stroke-width="1" opacity="0.85"/>
<line x1="188.80" y1="517.76" x2="188.80" y2="519.35" stroke="#333" stroke-width="0.9" />
<line x1="187.50" y1="517.76" x2="190.10" y2="517.76" stroke="#333" stroke-width="0.9" />
<circle cx="188.80" cy="517.76" r="1.1" fill="#222"/>
<rect x="193.30" y="519.35" width="2.90" height="1.05" fill="#c7db84" stroke="#222" stroke-width="0.8" />
<rect x="193.10" y="519.35" width="3.30" height="1.05" fill="#3c4a22" stroke="none" stroke-width="1" opacity="0.85"/>
<line x1="202.03" y1="519.80" x2="205.93" y2="519.80" stroke="#444" stroke-width="0.9" />
<line x1="207.98" y1="519.80" x2="211.88" y2="519.80" stroke="#444" stroke-width="0.9" />
<line x1="213.93" y1="519.80" x2="217.83" y2="519.80" stroke="#444" stroke-width="0.9" />
<line x1="223.17" y1="519.80" x2="227.07" y2="519.80" stroke="#444" stroke-width="0.9" />
<line x1="229.12" y1="519.80" x2="233.02" y2="519.80" stroke="#444" stroke-width="0.9" />
<line x1="235.06" y1="519.80" x2="238.97" y2="519.80" stroke="#444" stroke-width="0.9" />
<line x1="244.30" y1="519.80" x2="248.20" y2="519.80" stroke="#444" stroke-width="0.9" />
<line x1="250.25" y1="519.80" x2="254.15" y2="519.80" stroke="#444" stroke-width="0.9" />
<line x1="256.20" y1="519.80" x2="260.10" y2="519.80" stroke="#444" stroke-width="0.9" />
<line x1="265.44" y1="519.80" x2="269.34" y2="519.80" stroke="#444" stroke-width="0.9" />
<line x1="271.39" y1="519.80" x2="275.29" y2="519.80" stroke="#444" stroke-width="0.9" />
<line x1="277.34" y1="519.80" x2="281.24" y2="519.80" stroke="#444" stroke-width="0.9" />
<line x1="286.57" y1="519.80" x2="290.47" y2="519.80" stroke="#444" stroke-width="0.9" />
<line x1="292.52" y1="519.80" x2="296.42" y2="519.80" stroke="#444" stroke-width="0.9" />
<line x1="298.47" y1="519.80" x2="302.37" y2="519.80" stroke="#444" stroke-width="0.9" />
<line x1="307.71" y1="519.80" x2="311.61" y2="519.80" stroke="#444" stroke-width="0.9" />
<line x1="313.66" y1="519.80" x2="317.56" y2="519.80" stroke="#444" stroke-width="0.9" />
<line x1="319.61" y1="519.80" x2="323.50" y2="519.80" stroke="#444" stroke-width="0.9" />
<line x1="328.84" y1="519.80" x2="332.74" y2="519.80" stroke="#444" stroke-width="0.9" />
<line x1="334.79" y1="519.80" x2="338.69" y2="519.80" stroke="#444" stroke-width="0.9" />
<line x1="340.74" y1="519.80" x2="344.64" y2="519.80" stroke="#444" stroke-width="0.9" />
<line x1="349.98" y1="519.80" x2="353.88" y2="519.80" stroke="#444" stroke-width="0.9" />
<line x1="355.93" y1="519.80" x2="359.83" y2="519.80" stroke="#444" stroke-width="0.9" />
<line x1="361.88" y1="519.80" x2="365.78" y2="519.80" stroke="#444" stroke-width="0.9" />
<rect x="280.60" y="366.60" width="16.20" height="9.20" fill="#5dc9f0" stroke="#3a3a3a" stroke-width="0.9" />
<text transform="translate(302.00,374.70) scale(1.05,1)" font-size="10.2" font-weight="bold" fill="#231f20" text-anchor="start" font-family="Liberation Sans" stroke="#231f20" stroke-width="0.28">NHEJi</text>
<rect x="280.60" y="381.90" width="16.20" height="9.20" fill="#db86bf" stroke="#3a3a3a" stroke-width="0.9" />
<text transform="translate(302.00,390.00) scale(1.05,1)" font-size="10.2" font-weight="bold" fill="#231f20" text-anchor="start" font-family="Liberation Sans" stroke="#231f20" stroke-width="0.28">NHEJi + ART558</text>
<rect x="280.60" y="397.20" width="16.20" height="9.20" fill="#c7db84" stroke="#3a3a3a" stroke-width="0.9" />
<text transform="translate(302.00,405.30) scale(1.05,1)" font-size="10.2" font-weight="bold" fill="#231f20" text-anchor="start" font-family="Liberation Sans" stroke="#231f20" stroke-width="0.28">NHEJi + D-I03</text>
<rect x="19.10" y="334.30" width="59.10" height="11.20" fill="#fff" stroke="#8e8e8e" stroke-width="1.2" />
<text transform="translate(48.65,343.70) scale(1.05,1)" font-size="11.8" font-weight="bold" fill="#c8102e" text-anchor="middle" font-family="Liberation Sans" stroke="#c8102e" stroke-width="0.28" textLength="50.19" lengthAdjust="spacingAndGlyphs">HNRNPA1</text>
<text transform="translate(86.50,344.00) scale(1.05,1)" font-size="12.4" font-weight="bold" fill="#231f20" text-anchor="start" font-family="Liberation Sans" stroke="#231f20" stroke-width="0.28" textLength="283.81" lengthAdjust="spacingAndGlyphs">Distribution of microhomology length (non-sorted)</text>
<text transform="translate(413.20,27.30) scale(1.05,1)" font-size="10.6" font-weight="bold" fill="#231f20" text-anchor="start" font-family="Liberation Sans" stroke="#231f20" stroke-width="0.28" font-style="italic" textLength="66.67" lengthAdjust="spacingAndGlyphs">knock-knock</text>
<rect x="392.4" y="32.2" width="112.2" height="28" rx="5.5" fill="#fff" stroke="#b3b3b3" stroke-width="1.3"/>
<text transform="translate(448.70,50.00) scale(1.05,1)" font-size="11.4" font-weight="bold" fill="#231f20" text-anchor="middle" font-family="Liberation Sans" stroke="#231f20" stroke-width="0.28" textLength="79.43" lengthAdjust="spacingAndGlyphs">deletion &lt; 50 nt</text>
<line x1="512.00" y1="45.20" x2="532.50" y2="45.20" stroke="#0a0a0a" stroke-width="1.1" />
<path d="M535.2,45.2 L530.2,43.2 L530.2,47.2 Z" fill="#161616"/>
<text transform="translate(643.60,14.10) scale(1.05,1)" font-size="11.4" font-weight="bold" fill="#231f20" text-anchor="middle" font-family="Liberation Sans" stroke="#231f20" stroke-width="0.28" textLength="63.81" lengthAdjust="spacingAndGlyphs">SIQ analysis</text>
<rect x="543.4" y="18.4" width="200.6" height="53.6" rx="8.5" fill="#fff" stroke="#a97fc6" stroke-width="1.6"/>
<text transform="translate(641.80,33.30) scale(1.05,1)" font-size="11.4" font-weight="bold" fill="#9b36a6" text-anchor="middle" font-family="Liberation Sans" stroke="#9b36a6" stroke-width="0.28" textLength="98.10" lengthAdjust="spacingAndGlyphs">Deletion frequency</text>
<text transform="translate(643.75,50.90) scale(1.05,1)" font-size="11.4" font-weight="bold" fill="#231f20" text-anchor="middle" font-family="Liberation Sans" stroke="#231f20" stroke-width="0.28" textLength="180.29" lengthAdjust="spacingAndGlyphs">Reads with deletion in the position</text>
<text transform="translate(640.40,63.30) scale(1.05,1)" font-size="11.4" font-weight="bold" fill="#231f20" text-anchor="middle" font-family="Liberation Sans" stroke="#231f20" stroke-width="0.28" textLength="140.19" lengthAdjust="spacingAndGlyphs">in all deletion &lt; 50 nt reads</text>
<text transform="translate(406.60,103.50) scale(1.05,1)" font-size="11.8" font-weight="bold" fill="#c8102e" text-anchor="start" font-family="Liberation Sans" stroke="#c8102e" stroke-width="0.28" font-style="italic" textLength="52.19" lengthAdjust="spacingAndGlyphs">HNRNPA1</text>
<text transform="translate(575.80,104.80) scale(1.05,1)" font-size="10.8" font-weight="bold" fill="#231f20" text-anchor="middle" font-family="Liberation Sans" stroke="#231f20" stroke-width="0.28" textLength="37.71" lengthAdjust="spacingAndGlyphs">cut site</text>
<path d="M572.8,108.3 L578.8,108.3 L575.8,114 Z" fill="#e8821f" stroke="#6b3b0b" stroke-width="0.5"/>
<path d="M602.3,134.6 L608.3,134.6 L605.3,128.8 Z" fill="#f4e43a" stroke="#6b6010" stroke-width="0.5"/>
<text transform="translate(605.50,144.80) scale(1.05,1)" font-size="10.8" font-weight="bold" fill="#231f20" text-anchor="middle" font-family="Liberation Sans" stroke="#231f20" stroke-width="0.28" textLength="36.86" lengthAdjust="spacingAndGlyphs">cut site</text>
<text x="406.07" y="121.0" font-size="8.9" font-weight="bold" fill="#231f20" text-anchor="middle" font-family="Liberation Mono" stroke="#231f20" stroke-width="0.2">5</text>
<text x="411.41" y="121.0" font-size="8.9" font-weight="bold" fill="#231f20" text-anchor="middle" font-family="Liberation Mono" stroke="#231f20" stroke-width="0.2">'</text>
<text x="418.07" y="121.0" font-size="8.9" font-weight="bold" fill="#231f20" text-anchor="middle" font-family="Liberation Mono" stroke="#231f20" stroke-width="0.2">G</text>
<text x="423.41" y="121.0" font-size="8.9" font-weight="bold" fill="#231f20" text-anchor="middle" font-family="Liberation Mono" stroke="#231f20" stroke-width="0.2">A</text>
<text x="428.75" y="121.0" font-size="8.9" font-weight="bold" fill="#231f20" text-anchor="middle" font-family="Liberation Mono" stroke="#231f20" stroke-width="0.2">T</text>
<text x="434.09" y="121.0" font-size="8.9" font-weight="bold" fill="#231f20" text-anchor="middle" font-family="Liberation Mono" stroke="#231f20" stroke-width="0.2">T</text>
<text x="439.43" y="121.0" font-size="8.9" font-weight="bold" fill="#231f20" text-anchor="middle" font-family="Liberation Mono" stroke="#231f20" stroke-width="0.2">T</text>
<text x="450.11" y="121.0" font-size="8.9" font-weight="bold" fill="#231f20" text-anchor="middle" font-family="Liberation Mono" stroke="#231f20" stroke-width="0.2">T</text>
<text x="455.45" y="121.0" font-size="8.9" font-weight="bold" fill="#231f20" text-anchor="middle" font-family="Liberation Mono" stroke="#231f20" stroke-width="0.2">A</text>
<text x="460.79" y="121.0" font-size="8.9" font-weight="bold" fill="#231f20" text-anchor="middle" font-family="Liberation Mono" stroke="#231f20" stroke-width="0.2">A</text>
<text x="466.13" y="121.0" font-size="8.9" font-weight="bold" fill="#231f20" text-anchor="middle" font-family="Liberation Mono" stroke="#231f20" stroke-width="0.2">T</text>
<text x="471.47" y="121.0" font-size="8.9" font-weight="bold" fill="#231f20" text-anchor="middle" font-family="Liberation Mono" stroke="#231f20" stroke-width="0.2">T</text>
<text x="482.15" y="121.0" font-size="8.9" font-weight="bold" fill="#231f20" text-anchor="middle" font-family="Liberation Mono" stroke="#231f20" stroke-width="0.2">A</text>
<text x="487.49" y="121.0" font-size="8.9" font-weight="bold" fill="#231f20" text-anchor="middle" font-family="Liberation Mono" stroke="#231f20" stroke-width="0.2">G</text>
<text x="492.83" y="121.0" font-size="8.9" font-weight="bold" fill="#231f20" text-anchor="middle" font-family="Liberation Mono" stroke="#231f20" stroke-width="0.2">G</text>
<text x="498.17" y="121.0" font-size="8.9" font-weight="bold" fill="#231f20" text-anchor="middle" font-family="Liberation Mono" stroke="#231f20" stroke-width="0.2">T</text>
<text x="503.51" y="121.0" font-size="8.9" font-weight="bold" fill="#231f20" text-anchor="middle" font-family="Liberation Mono" stroke="#231f20" stroke-width="0.2">A</text>
<text x="514.19" y="121.0" font-size="8.9" font-weight="bold" fill="#231f20" text-anchor="middle" font-family="Liberation Mono" stroke="#231f20" stroke-width="0.2">A</text>
<text x="519.53" y="121.0" font-size="8.9" font-weight="bold" fill="#231f20" text-anchor="middle" font-family="Liberation Mono" stroke="#231f20" stroke-width="0.2">G</text>
<text x="524.87" y="121.0" font-size="8.9" font-weight="bold" fill="#231f20" text-anchor="middle" font-family="Liberation Mono" stroke="#231f20" stroke-width="0.2">T</text>
<text x="530.21" y="121.0" font-size="8.9" font-weight="bold" fill="#231f20" text-anchor="middle" font-family="Liberation Mono" stroke="#231f20" stroke-width="0.2">A</text>
<text x="535.55" y="121.0" font-size="8.9" font-weight="bold" fill="#231f20" text-anchor="middle" font-family="Liberation Mono" stroke="#231f20" stroke-width="0.2">A</text>
<text x="546.23" y="121.0" font-size="8.9" font-weight="bold" fill="#231f20" text-anchor="middle" font-family="Liberation Mono" stroke="#231f20" stroke-width="0.2">G</text>
<text x="551.57" y="121.0" font-size="8.9" font-weight="bold" fill="#231f20" text-anchor="middle" font-family="Liberation Mono" stroke="#231f20" stroke-width="0.2">C</text>
<text x="556.91" y="121.0" font-size="8.9" font-weight="bold" fill="#231f20" text-anchor="middle" font-family="Liberation Mono" stroke="#231f20" stroke-width="0.2">A</text>
<text x="562.25" y="121.0" font-size="8.9" font-weight="bold" fill="#231f20" text-anchor="middle" font-family="Liberation Mono" stroke="#231f20" stroke-width="0.2">C</text>
<text x="567.59" y="121.0" font-size="8.9" font-weight="bold" fill="#231f20" text-anchor="middle" font-family="Liberation Mono" stroke="#231f20" stroke-width="0.2">C</text>
<text x="578.27" y="121.0" font-size="8.9" font-weight="bold" fill="#22a7e2" text-anchor="middle" font-family="Liberation Mono" stroke="#22a7e2" stroke-width="0.2">T</text>
<text x="583.61" y="121.0" font-size="8.9" font-weight="bold" fill="#22a7e2" text-anchor="middle" font-family="Liberation Mono" stroke="#22a7e2" stroke-width="0.2">T</text>
<text x="588.95" y="121.0" font-size="8.9" font-weight="bold" fill="#22a7e2" text-anchor="middle" font-family="Liberation Mono" stroke="#22a7e2" stroke-width="0.2">T</text>
<text x="594.29" y="121.0" font-size="8.9" font-weight="bold" fill="#22a7e2" text-anchor="middle" font-family="Liberation Mono" stroke="#22a7e2" stroke-width="0.2">T</text>
<text x="599.63" y="121.0" font-size="8.9" font-weight="bold" fill="#22a7e2" text-anchor="middle" font-family="Liberation Mono" stroke="#22a7e2" stroke-width="0.2">T</text>
<text x="610.31" y="121.0" font-size="8.9" font-weight="bold" fill="#231f20" text-anchor="middle" font-family="Liberation Mono" stroke="#231f20" stroke-width="0.2">G</text>
<text x="615.65" y="121.0" font-size="8.9" font-weight="bold" fill="#231f20" text-anchor="middle" font-family="Liberation Mono" stroke="#231f20" stroke-width="0.2">T</text>
<text x="620.99" y="121.0" font-size="8.9" font-weight="bold" fill="#231f20" text-anchor="middle" font-family="Liberation Mono" stroke="#231f20" stroke-width="0.2">G</text>
<text x="626.33" y="121.0" font-size="8.9" font-weight="bold" fill="#231f20" text-anchor="middle" font-family="Liberation Mono" stroke="#231f20" stroke-width="0.2">T</text>
<text x="631.67" y="121.0" font-size="8.9" font-weight="bold" fill="#231f20" text-anchor="middle" font-family="Liberation Mono" stroke="#231f20" stroke-width="0.2">G</text>
<text x="642.35" y="121.0" font-size="8.9" font-weight="bold" fill="#231f20" text-anchor="middle" font-family="Liberation Mono" stroke="#231f20" stroke-width="0.2">T</text>
<text x="647.69" y="121.0" font-size="8.9" font-weight="bold" fill="#231f20" text-anchor="middle" font-family="Liberation Mono" stroke="#231f20" stroke-width="0.2">T</text>
<text x="653.03" y="121.0" font-size="8.9" font-weight="bold" fill="#231f20" text-anchor="middle" font-family="Liberation Mono" stroke="#231f20" stroke-width="0.2">G</text>
<text x="658.37" y="121.0" font-size="8.9" font-weight="bold" fill="#231f20" text-anchor="middle" font-family="Liberation Mono" stroke="#231f20" stroke-width="0.2">A</text>
<text x="663.71" y="121.0" font-size="8.9" font-weight="bold" fill="#231f20" text-anchor="middle" font-family="Liberation Mono" stroke="#231f20" stroke-width="0.2">C</text>
<text x="674.39" y="121.0" font-size="8.9" font-weight="bold" fill="#231f20" text-anchor="middle" font-family="Liberation Mono" stroke="#231f20" stroke-width="0.2">A</text>
<text x="679.73" y="121.0" font-size="8.9" font-weight="bold" fill="#231f20" text-anchor="middle" font-family="Liberation Mono" stroke="#231f20" stroke-width="0.2">T</text>
<text x="685.07" y="121.0" font-size="8.9" font-weight="bold" fill="#231f20" text-anchor="middle" font-family="Liberation Mono" stroke="#231f20" stroke-width="0.2">A</text>
<text x="690.41" y="121.0" font-size="8.9" font-weight="bold" fill="#231f20" text-anchor="middle" font-family="Liberation Mono" stroke="#231f20" stroke-width="0.2">A</text>
<text x="695.75" y="121.0" font-size="8.9" font-weight="bold" fill="#22a7e2" text-anchor="middle" font-family="Liberation Mono" stroke="#22a7e2" stroke-width="0.2">T</text>
<text x="706.43" y="121.0" font-size="8.9" font-weight="bold" fill="#22a7e2" text-anchor="middle" font-family="Liberation Mono" stroke="#22a7e2" stroke-width="0.2">T</text>
<text x="711.77" y="121.0" font-size="8.9" font-weight="bold" fill="#22a7e2" text-anchor="middle" font-family="Liberation Mono" stroke="#22a7e2" stroke-width="0.2">T</text>
<text x="717.11" y="121.0" font-size="8.9" font-weight="bold" fill="#22a7e2" text-anchor="middle" font-family="Liberation Mono" stroke="#22a7e2" stroke-width="0.2">T</text>
<text x="722.45" y="121.0" font-size="8.9" font-weight="bold" fill="#22a7e2" text-anchor="middle" font-family="Liberation Mono" stroke="#22a7e2" stroke-width="0.2">T</text>
<text x="727.79" y="121.0" font-size="8.9" font-weight="bold" fill="#22a7e2" text-anchor="middle" font-family="Liberation Mono" stroke="#22a7e2" stroke-width="0.2">T</text>
<text x="738.47" y="121.0" font-size="8.9" font-weight="bold" fill="#231f20" text-anchor="middle" font-family="Liberation Mono" stroke="#231f20" stroke-width="0.2">3</text>
<text x="743.81" y="121.0" font-size="8.9" font-weight="bold" fill="#231f20" text-anchor="middle" font-family="Liberation Mono" stroke="#231f20" stroke-width="0.2">'</text>
<text x="406.07" y="128.9" font-size="8.9" font-weight="bold" fill="#231f20" text-anchor="middle" font-family="Liberation Mono" stroke="#231f20" stroke-width="0.2">3</text>
<text x="411.41" y="128.9" font-size="8.9" font-weight="bold" fill="#231f20" text-anchor="middle" font-family="Liberation Mono" stroke="#231f20" stroke-width="0.2">'</text>
<text x="418.07" y="128.9" font-size="8.9" font-weight="bold" fill="#231f20" text-anchor="middle" font-family="Liberation Mono" stroke="#231f20" stroke-width="0.2">C</text>
<text x="423.41" y="128.9" font-size="8.9" font-weight="bold" fill="#231f20" text-anchor="middle" font-family="Liberation Mono" stroke="#231f20" stroke-width="0.2">T</text>
<text x="428.75" y="128.9" font-size="8.9" font-weight="bold" fill="#231f20" text-anchor="middle" font-family="Liberation Mono" stroke="#231f20" stroke-width="0.2">A</text>
<text x="434.09" y="128.9" font-size="8.9" font-weight="bold" fill="#231f20" text-anchor="middle" font-family="Liberation Mono" stroke="#231f20" stroke-width="0.2">A</text>
<text x="439.43" y="128.9" font-size="8.9" font-weight="bold" fill="#231f20" text-anchor="middle" font-family="Liberation Mono" stroke="#231f20" stroke-width="0.2">A</text>
<text x="450.11" y="128.9" font-size="8.9" font-weight="bold" fill="#231f20" text-anchor="middle" font-family="Liberation Mono" stroke="#231f20" stroke-width="0.2">A</text>
<text x="455.45" y="128.9" font-size="8.9" font-weight="bold" fill="#231f20" text-anchor="middle" font-family="Liberation Mono" stroke="#231f20" stroke-width="0.2">T</text>
<text x="460.79" y="128.9" font-size="8.9" font-weight="bold" fill="#231f20" text-anchor="middle" font-family="Liberation Mono" stroke="#231f20" stroke-width="0.2">T</text>
<text x="466.13" y="128.9" font-size="8.9" font-weight="bold" fill="#231f20" text-anchor="middle" font-family="Liberation Mono" stroke="#231f20" stroke-width="0.2">A</text>
<text x="471.47" y="128.9" font-size="8.9" font-weight="bold" fill="#231f20" text-anchor="middle" font-family="Liberation Mono" stroke="#231f20" stroke-width="0.2">A</text>
<text x="482.15" y="128.9" font-size="8.9" font-weight="bold" fill="#231f20" text-anchor="middle" font-family="Liberation Mono" stroke="#231f20" stroke-width="0.2">T</text>
<text x="487.49" y="128.9" font-size="8.9" font-weight="bold" fill="#231f20" text-anchor="middle" font-family="Liberation Mono" stroke="#231f20" stroke-width="0.2">C</text>
<text x="492.83" y="128.9" font-size="8.9" font-weight="bold" fill="#231f20" text-anchor="middle" font-family="Liberation Mono" stroke="#231f20" stroke-width="0.2">C</text>
<text x="498.17" y="128.9" font-size="8.9" font-weight="bold" fill="#231f20" text-anchor="middle" font-family="Liberation Mono" stroke="#231f20" stroke-width="0.2">A</text>
<text x="503.51" y="128.9" font-size="8.9" font-weight="bold" fill="#231f20" text-anchor="middle" font-family="Liberation Mono" stroke="#231f20" stroke-width="0.2">T</text>
<text x="514.19" y="128.9" font-size="8.9" font-weight="bold" fill="#231f20" text-anchor="middle" font-family="Liberation Mono" stroke="#231f20" stroke-width="0.2">T</text>
<text x="519.53" y="128.9" font-size="8.9" font-weight="bold" fill="#231f20" text-anchor="middle" font-family="Liberation Mono" stroke="#231f20" stroke-width="0.2">C</text>
<text x="524.87" y="128.9" font-size="8.9" font-weight="bold" fill="#231f20" text-anchor="middle" font-family="Liberation Mono" stroke="#231f20" stroke-width="0.2">A</text>
<text x="530.21" y="128.9" font-size="8.9" font-weight="bold" fill="#231f20" text-anchor="middle" font-family="Liberation Mono" stroke="#231f20" stroke-width="0.2">T</text>
<text x="535.55" y="128.9" font-size="8.9" font-weight="bold" fill="#231f20" text-anchor="middle" font-family="Liberation Mono" stroke="#231f20" stroke-width="0.2">T</text>
<text x="546.23" y="128.9" font-size="8.9" font-weight="bold" fill="#231f20" text-anchor="middle" font-family="Liberation Mono" stroke="#231f20" stroke-width="0.2">C</text>
<text x="551.57" y="128.9" font-size="8.9" font-weight="bold" fill="#231f20" text-anchor="middle" font-family="Liberation Mono" stroke="#231f20" stroke-width="0.2">G</text>
<text x="556.91" y="128.9" font-size="8.9" font-weight="bold" fill="#231f20" text-anchor="middle" font-family="Liberation Mono" stroke="#231f20" stroke-width="0.2">T</text>
<text x="562.25" y="128.9" font-size="8.9" font-weight="bold" fill="#231f20" text-anchor="middle" font-family="Liberation Mono" stroke="#231f20" stroke-width="0.2">G</text>
<text x="567.59" y="128.9" font-size="8.9" font-weight="bold" fill="#231f20" text-anchor="middle" font-family="Liberation Mono" stroke="#231f20" stroke-width="0.2">G</text>
<text x="578.27" y="128.9" font-size="8.9" font-weight="bold" fill="#22a7e2" text-anchor="middle" font-family="Liberation Mono" stroke="#22a7e2" stroke-width="0.2">A</text>
<text x="583.61" y="128.9" font-size="8.9" font-weight="bold" fill="#22a7e2" text-anchor="middle" font-family="Liberation Mono" stroke="#22a7e2" stroke-width="0.2">A</text>
<text x="588.95" y="128.9" font-size="8.9" font-weight="bold" fill="#22a7e2" text-anchor="middle" font-family="Liberation Mono" stroke="#22a7e2" stroke-width="0.2">A</text>
<text x="594.29" y="128.9" font-size="8.9" font-weight="bold" fill="#22a7e2" text-anchor="middle" font-family="Liberation Mono" stroke="#22a7e2" stroke-width="0.2">A</text>
<text x="599.63" y="128.9" font-size="8.9" font-weight="bold" fill="#22a7e2" text-anchor="middle" font-family="Liberation Mono" stroke="#22a7e2" stroke-width="0.2">A</text>
<text x="610.31" y="128.9" font-size="8.9" font-weight="bold" fill="#231f20" text-anchor="middle" font-family="Liberation Mono" stroke="#231f20" stroke-width="0.2">C</text>
<text x="615.65" y="128.9" font-size="8.9" font-weight="bold" fill="#231f20" text-anchor="middle" font-family="Liberation Mono" stroke="#231f20" stroke-width="0.2">A</text>
<text x="620.99" y="128.9" font-size="8.9" font-weight="bold" fill="#231f20" text-anchor="middle" font-family="Liberation Mono" stroke="#231f20" stroke-width="0.2">C</text>
<text x="626.33" y="128.9" font-size="8.9" font-weight="bold" fill="#231f20" text-anchor="middle" font-family="Liberation Mono" stroke="#231f20" stroke-width="0.2">A</text>
<text x="631.67" y="128.9" font-size="8.9" font-weight="bold" fill="#231f20" text-anchor="middle" font-family="Liberation Mono" stroke="#231f20" stroke-width="0.2">C</text>
<text x="642.35" y="128.9" font-size="8.9" font-weight="bold" fill="#231f20" text-anchor="middle" font-family="Liberation Mono" stroke="#231f20" stroke-width="0.2">A</text>
<text x="647.69" y="128.9" font-size="8.9" font-weight="bold" fill="#231f20" text-anchor="middle" font-family="Liberation Mono" stroke="#231f20" stroke-width="0.2">A</text>
<text x="653.03" y="128.9" font-size="8.9" font-weight="bold" fill="#231f20" text-anchor="middle" font-family="Liberation Mono" stroke="#231f20" stroke-width="0.2">C</text>
<text x="658.37" y="128.9" font-size="8.9" font-weight="bold" fill="#231f20" text-anchor="middle" font-family="Liberation Mono" stroke="#231f20" stroke-width="0.2">T</text>
<text x="663.71" y="128.9" font-size="8.9" font-weight="bold" fill="#231f20" text-anchor="middle" font-family="Liberation Mono" stroke="#231f20" stroke-width="0.2">G</text>
<text x="674.39" y="128.9" font-size="8.9" font-weight="bold" fill="#231f20" text-anchor="middle" font-family="Liberation Mono" stroke="#231f20" stroke-width="0.2">T</text>
<text x="679.73" y="128.9" font-size="8.9" font-weight="bold" fill="#231f20" text-anchor="middle" font-family="Liberation Mono" stroke="#231f20" stroke-width="0.2">A</text>
<text x="685.07" y="128.9" font-size="8.9" font-weight="bold" fill="#231f20" text-anchor="middle" font-family="Liberation Mono" stroke="#231f20" stroke-width="0.2">T</text>
<text x="690.41" y="128.9" font-size="8.9" font-weight="bold" fill="#231f20" text-anchor="middle" font-family="Liberation Mono" stroke="#231f20" stroke-width="0.2">T</text>
<text x="695.75" y="128.9" font-size="8.9" font-weight="bold" fill="#22a7e2" text-anchor="middle" font-family="Liberation Mono" stroke="#22a7e2" stroke-width="0.2">A</text>
<text x="706.43" y="128.9" font-size="8.9" font-weight="bold" fill="#22a7e2" text-anchor="middle" font-family="Liberation Mono" stroke="#22a7e2" stroke-width="0.2">A</text>
<text x="711.77" y="128.9" font-size="8.9" font-weight="bold" fill="#22a7e2" text-anchor="middle" font-family="Liberation Mono" stroke="#22a7e2" stroke-width="0.2">A</text>
<text x="717.11" y="128.9" font-size="8.9" font-weight="bold" fill="#22a7e2" text-anchor="middle" font-family="Liberation Mono" stroke="#22a7e2" stroke-width="0.2">A</text>
<text x="722.45" y="128.9" font-size="8.9" font-weight="bold" fill="#22a7e2" text-anchor="middle" font-family="Liberation Mono" stroke="#22a7e2" stroke-width="0.2">A</text>
<text x="727.79" y="128.9" font-size="8.9" font-weight="bold" fill="#22a7e2" text-anchor="middle" font-family="Liberation Mono" stroke="#22a7e2" stroke-width="0.2">A</text>
<text x="738.47" y="128.9" font-size="8.9" font-weight="bold" fill="#231f20" text-anchor="middle" font-family="Liberation Mono" stroke="#231f20" stroke-width="0.2">5</text>
<text x="743.81" y="128.9" font-size="8.9" font-weight="bold" fill="#231f20" text-anchor="middle" font-family="Liberation Mono" stroke="#231f20" stroke-width="0.2">'</text>
<line x1="432.20" y1="131.90" x2="588.00" y2="131.90" stroke="#6a6a6a" stroke-width="1.3" />
<text transform="translate(510.40,140.60) scale(1.05,1)" font-size="10.6" font-weight="bold" fill="#231f20" text-anchor="middle" font-family="Liberation Sans" stroke="#231f20" stroke-width="0.28" textLength="130.48" lengthAdjust="spacingAndGlyphs">Cpf1 PAM + target sequence</text>
<rect x="440.30" y="306.22" width="4.83" height="0.98" fill="#f6beb5" stroke="none" stroke-width="1" />
<rect x="445.73" y="306.22" width="4.83" height="0.98" fill="#f6beb5" stroke="none" stroke-width="1" />
<rect x="451.16" y="306.02" width="4.83" height="1.18" fill="#f6beb5" stroke="none" stroke-width="1" />
<rect x="456.59" y="305.73" width="4.83" height="1.47" fill="#f6beb5" stroke="none" stroke-width="1" />
<rect x="462.02" y="305.73" width="4.83" height="1.47" fill="#f6beb5" stroke="none" stroke-width="1" />
<rect x="467.45" y="305.44" width="4.83" height="1.76" fill="#f6beb5" stroke="none" stroke-width="1" />
<rect x="472.88" y="305.24" width="4.83" height="1.96" fill="#f6beb5" stroke="none" stroke-width="1" />
<rect x="478.31" y="304.26" width="4.83" height="2.94" fill="#f6beb5" stroke="none" stroke-width="1" />
<rect x="483.74" y="304.26" width="4.83" height="2.94" fill="#f6beb5" stroke="none" stroke-width="1" />
<rect x="489.17" y="302.50" width="4.83" height="4.70" fill="#f6beb5" stroke="none" stroke-width="1" />
<rect x="494.60" y="302.50" width="4.83" height="4.70" fill="#f6beb5" stroke="none" stroke-width="1" />
<rect x="500.03" y="299.36" width="4.83" height="7.84" fill="#f6beb5" stroke="none" stroke-width="1" />
<rect x="505.46" y="296.42" width="4.83" height="10.78" fill="#f6beb5" stroke="none" stroke-width="1" />
<rect x="510.89" y="295.73" width="4.83" height="11.47" fill="#f6beb5" stroke="none" stroke-width="1" />
<rect x="516.32" y="295.44" width="4.83" height="11.76" fill="#f6beb5" stroke="none" stroke-width="1" />
<rect x="521.75" y="292.11" width="4.83" height="15.09" fill="#f6beb5" stroke="none" stroke-width="1" />
<rect x="527.18" y="290.25" width="4.83" height="16.95" fill="#f6beb5" stroke="none" stroke-width="1" />
<rect x="532.61" y="283.39" width="4.83" height="23.81" fill="#f6beb5" stroke="none" stroke-width="1" />
<rect x="538.04" y="282.90" width="4.83" height="24.30" fill="#f6beb5" stroke="none" stroke-width="1" />
<rect x="543.47" y="272.21" width="4.83" height="34.99" fill="#f6beb5" stroke="none" stroke-width="1" />
<rect x="548.90" y="259.28" width="4.83" height="47.92" fill="#f6beb5" stroke="none" stroke-width="1" />
<rect x="554.33" y="245.46" width="4.83" height="61.74" fill="#f6beb5" stroke="none" stroke-width="1" />
<rect x="559.76" y="239.19" width="4.83" height="68.01" fill="#f6beb5" stroke="none" stroke-width="1" />
<rect x="565.19" y="228.21" width="4.83" height="78.99" fill="#f6beb5" stroke="none" stroke-width="1" />
<rect x="570.62" y="219.20" width="4.83" height="88.00" fill="#f6beb5" stroke="none" stroke-width="1" />
<rect x="576.05" y="211.94" width="4.83" height="95.26" fill="#f6beb5" stroke="none" stroke-width="1" />
<rect x="581.48" y="215.28" width="4.83" height="91.92" fill="#f6beb5" stroke="none" stroke-width="1" />
<rect x="586.91" y="232.13" width="4.83" height="75.07" fill="#f6beb5" stroke="none" stroke-width="1" />
<rect x="592.34" y="239.78" width="4.83" height="67.42" fill="#f6beb5" stroke="none" stroke-width="1" />
<rect x="597.77" y="249.58" width="4.83" height="57.62" fill="#f6beb5" stroke="none" stroke-width="1" />
<rect x="603.20" y="254.87" width="4.83" height="52.33" fill="#f6beb5" stroke="none" stroke-width="1" />
<rect x="608.63" y="261.92" width="4.83" height="45.28" fill="#f6beb5" stroke="none" stroke-width="1" />
<rect x="614.06" y="270.84" width="4.83" height="36.36" fill="#f6beb5" stroke="none" stroke-width="1" />
<rect x="619.49" y="274.57" width="4.83" height="32.63" fill="#f6beb5" stroke="none" stroke-width="1" />
<rect x="624.92" y="278.09" width="4.83" height="29.11" fill="#f6beb5" stroke="none" stroke-width="1" />
<rect x="630.35" y="282.11" width="4.83" height="25.09" fill="#f6beb5" stroke="none" stroke-width="1" />
<rect x="635.78" y="284.07" width="4.83" height="23.13" fill="#f6beb5" stroke="none" stroke-width="1" />
<rect x="641.21" y="288.38" width="4.83" height="18.82" fill="#f6beb5" stroke="none" stroke-width="1" />
<rect x="646.64" y="289.46" width="4.83" height="17.74" fill="#f6beb5" stroke="none" stroke-width="1" />
<rect x="652.07" y="290.54" width="4.83" height="16.66" fill="#f6beb5" stroke="none" stroke-width="1" />
<rect x="657.50" y="292.11" width="4.83" height="15.09" fill="#f6beb5" stroke="none" stroke-width="1" />
<rect x="662.93" y="292.79" width="4.83" height="14.41" fill="#f6beb5" stroke="none" stroke-width="1" />
<rect x="668.36" y="294.36" width="4.83" height="12.84" fill="#f6beb5" stroke="none" stroke-width="1" />
<rect x="673.79" y="295.24" width="4.83" height="11.96" fill="#f6beb5" stroke="none" stroke-width="1" />
<rect x="679.22" y="295.73" width="4.83" height="11.47" fill="#f6beb5" stroke="none" stroke-width="1" />
<rect x="684.65" y="300.34" width="4.83" height="6.86" fill="#f6beb5" stroke="none" stroke-width="1" />
<rect x="690.08" y="300.83" width="4.83" height="6.37" fill="#f6beb5" stroke="none" stroke-width="1" />
<rect x="695.51" y="302.79" width="4.83" height="4.41" fill="#f6beb5" stroke="none" stroke-width="1" />
<rect x="700.94" y="302.99" width="4.83" height="4.21" fill="#f6beb5" stroke="none" stroke-width="1" />
<rect x="706.37" y="304.06" width="4.83" height="3.14" fill="#f6beb5" stroke="none" stroke-width="1" />
<rect x="711.80" y="304.06" width="4.83" height="3.14" fill="#f6beb5" stroke="none" stroke-width="1" />
<line x1="437.40" y1="306.70" x2="438.80" y2="306.70" stroke="#888" stroke-width="0.8" />
<text transform="translate(435.80,307.80) scale(1.05,1)" font-size="7.3" font-weight="bold" fill="#4f4f4f" text-anchor="end" font-family="Liberation Sans" stroke="#4f4f4f" stroke-width="0.28" textLength="13.62" lengthAdjust="spacingAndGlyphs">0.00</text>
<line x1="437.40" y1="282.55" x2="438.80" y2="282.55" stroke="#888" stroke-width="0.8" />
<text transform="translate(435.80,283.65) scale(1.05,1)" font-size="7.3" font-weight="bold" fill="#4f4f4f" text-anchor="end" font-family="Liberation Sans" stroke="#4f4f4f" stroke-width="0.28" textLength="13.62" lengthAdjust="spacingAndGlyphs">0.25</text>
<line x1="437.40" y1="258.40" x2="438.80" y2="258.40" stroke="#888" stroke-width="0.8" />
<text transform="translate(435.80,259.50) scale(1.05,1)" font-size="7.3" font-weight="bold" fill="#4f4f4f" text-anchor="end" font-family="Liberation Sans" stroke="#4f4f4f" stroke-width="0.28" textLength="13.62" lengthAdjust="spacingAndGlyphs">0.50</text>
<line x1="437.40" y1="234.25" x2="438.80" y2="234.25" stroke="#888" stroke-width="0.8" />
<text transform="translate(435.80,235.35) scale(1.05,1)" font-size="7.3" font-weight="bold" fill="#4f4f4f" text-anchor="end" font-family="Liberation Sans" stroke="#4f4f4f" stroke-width="0.28" textLength="13.62" lengthAdjust="spacingAndGlyphs">0.75</text>
<line x1="437.40" y1="210.10" x2="438.80" y2="210.10" stroke="#888" stroke-width="0.8" />
<text transform="translate(435.80,211.20) scale(1.05,1)" font-size="7.3" font-weight="bold" fill="#4f4f4f" text-anchor="end" font-family="Liberation Sans" stroke="#4f4f4f" stroke-width="0.28" textLength="13.62" lengthAdjust="spacingAndGlyphs">1.00</text>
<rect x="440.30" y="413.22" width="4.83" height="0.98" fill="#b5c4bd" stroke="none" stroke-width="1" />
<rect x="440.30" y="412.24" width="4.83" height="0.98" fill="#a9dcd8" stroke="none" stroke-width="1" />
<rect x="445.73" y="413.22" width="4.83" height="0.98" fill="#b5c4bd" stroke="none" stroke-width="1" />
<rect x="445.73" y="412.04" width="4.83" height="1.18" fill="#a9dcd8" stroke="none" stroke-width="1" />
<rect x="451.16" y="413.02" width="4.83" height="1.18" fill="#b5c4bd" stroke="none" stroke-width="1" />
<rect x="451.16" y="411.85" width="4.83" height="1.18" fill="#a9dcd8" stroke="none" stroke-width="1" />
<rect x="456.59" y="412.73" width="4.83" height="1.47" fill="#b5c4bd" stroke="none" stroke-width="1" />
<rect x="456.59" y="411.26" width="4.83" height="1.47" fill="#a9dcd8" stroke="none" stroke-width="1" />
<rect x="462.02" y="412.73" width="4.83" height="1.47" fill="#b5c4bd" stroke="none" stroke-width="1" />
<rect x="462.02" y="410.28" width="4.83" height="2.45" fill="#a9dcd8" stroke="none" stroke-width="1" />
<rect x="467.45" y="412.44" width="4.83" height="1.76" fill="#b5c4bd" stroke="none" stroke-width="1" />
<rect x="467.45" y="409.99" width="4.83" height="2.45" fill="#a9dcd8" stroke="none" stroke-width="1" />
<rect x="472.88" y="412.24" width="4.83" height="1.96" fill="#b5c4bd" stroke="none" stroke-width="1" />
<rect x="472.88" y="409.30" width="4.83" height="2.94" fill="#a9dcd8" stroke="none" stroke-width="1" />
<rect x="478.31" y="411.26" width="4.83" height="2.94" fill="#b5c4bd" stroke="none" stroke-width="1" />
<rect x="478.31" y="408.32" width="4.83" height="2.94" fill="#a9dcd8" stroke="none" stroke-width="1" />
<rect x="483.74" y="411.26" width="4.83" height="2.94" fill="#b5c4bd" stroke="none" stroke-width="1" />
<rect x="483.74" y="408.03" width="4.83" height="3.23" fill="#a9dcd8" stroke="none" stroke-width="1" />
<rect x="489.17" y="409.50" width="4.83" height="4.70" fill="#b5c4bd" stroke="none" stroke-width="1" />
<rect x="489.17" y="406.95" width="4.83" height="2.55" fill="#a9dcd8" stroke="none" stroke-width="1" />
<rect x="494.60" y="409.50" width="4.83" height="4.70" fill="#b5c4bd" stroke="none" stroke-width="1" />
<rect x="494.60" y="406.07" width="4.83" height="3.43" fill="#a9dcd8" stroke="none" stroke-width="1" />
<rect x="500.03" y="406.36" width="4.83" height="7.84" fill="#b5c4bd" stroke="none" stroke-width="1" />
<rect x="500.03" y="404.40" width="4.83" height="1.96" fill="#a9dcd8" stroke="none" stroke-width="1" />
<rect x="505.46" y="403.42" width="4.83" height="10.78" fill="#b5c4bd" stroke="none" stroke-width="1" />
<rect x="510.89" y="402.93" width="4.83" height="11.27" fill="#b5c4bd" stroke="none" stroke-width="1" />
<rect x="510.89" y="402.73" width="4.83" height="0.20" fill="#f6beb5" stroke="none" stroke-width="1" />
<rect x="516.32" y="402.44" width="4.83" height="11.76" fill="#b5c4bd" stroke="none" stroke-width="1" />
<rect x="521.75" y="401.46" width="4.83" height="12.74" fill="#b5c4bd" stroke="none" stroke-width="1" />
<rect x="521.75" y="399.11" width="4.83" height="2.35" fill="#f6beb5" stroke="none" stroke-width="1" />
<rect x="527.18" y="399.50" width="4.83" height="14.70" fill="#b5c4bd" stroke="none" stroke-width="1" />
<rect x="527.18" y="397.25" width="4.83" height="2.25" fill="#f6beb5" stroke="none" stroke-width="1" />
<rect x="532.61" y="396.95" width="4.83" height="17.25" fill="#b5c4bd" stroke="none" stroke-width="1" />
<rect x="532.61" y="390.39" width="4.83" height="6.57" fill="#f6beb5" stroke="none" stroke-width="1" />
<rect x="538.04" y="396.76" width="4.83" height="17.44" fill="#b5c4bd" stroke="none" stroke-width="1" />
<rect x="538.04" y="389.90" width="4.83" height="6.86" fill="#f6beb5" stroke="none" stroke-width="1" />
<rect x="543.47" y="390.97" width="4.83" height="23.23" fill="#b5c4bd" stroke="none" stroke-width="1" />
<rect x="543.47" y="379.21" width="4.83" height="11.76" fill="#f6beb5" stroke="none" stroke-width="1" />
<rect x="548.90" y="374.31" width="4.83" height="39.89" fill="#b5c4bd" stroke="none" stroke-width="1" />
<rect x="548.90" y="366.28" width="4.83" height="8.04" fill="#f6beb5" stroke="none" stroke-width="1" />
<rect x="554.33" y="360.20" width="4.83" height="54.00" fill="#b5c4bd" stroke="none" stroke-width="1" />
<rect x="554.33" y="352.46" width="4.83" height="7.74" fill="#f6beb5" stroke="none" stroke-width="1" />
<rect x="559.76" y="353.44" width="4.83" height="60.76" fill="#b5c4bd" stroke="none" stroke-width="1" />
<rect x="559.76" y="346.19" width="4.83" height="7.25" fill="#f6beb5" stroke="none" stroke-width="1" />
<rect x="565.19" y="340.11" width="4.83" height="74.09" fill="#b5c4bd" stroke="none" stroke-width="1" />
<rect x="565.19" y="335.21" width="4.83" height="4.90" fill="#f6beb5" stroke="none" stroke-width="1" />
<rect x="570.62" y="327.76" width="4.83" height="86.44" fill="#b5c4bd" stroke="none" stroke-width="1" />
<rect x="570.62" y="326.20" width="4.83" height="1.57" fill="#f6beb5" stroke="none" stroke-width="1" />
<rect x="576.05" y="319.34" width="4.83" height="94.86" fill="#b5c4bd" stroke="none" stroke-width="1" />
<rect x="576.05" y="318.94" width="4.83" height="0.39" fill="#f6beb5" stroke="none" stroke-width="1" />
<rect x="581.48" y="322.67" width="4.83" height="91.53" fill="#b5c4bd" stroke="none" stroke-width="1" />
<rect x="581.48" y="322.28" width="4.83" height="0.39" fill="#f6beb5" stroke="none" stroke-width="1" />
<rect x="586.91" y="344.03" width="4.83" height="70.17" fill="#b5c4bd" stroke="none" stroke-width="1" />
<rect x="586.91" y="339.13" width="4.83" height="4.90" fill="#f6beb5" stroke="none" stroke-width="1" />
<rect x="592.34" y="354.13" width="4.83" height="60.07" fill="#b5c4bd" stroke="none" stroke-width="1" />
<rect x="592.34" y="346.78" width="4.83" height="7.35" fill="#f6beb5" stroke="none" stroke-width="1" />
<rect x="597.77" y="368.04" width="4.83" height="46.16" fill="#b5c4bd" stroke="none" stroke-width="1" />
<rect x="597.77" y="356.58" width="4.83" height="11.47" fill="#f6beb5" stroke="none" stroke-width="1" />
<rect x="603.20" y="375.00" width="4.83" height="39.20" fill="#b5c4bd" stroke="none" stroke-width="1" />
<rect x="603.20" y="361.87" width="4.83" height="13.13" fill="#f6beb5" stroke="none" stroke-width="1" />
<rect x="608.63" y="382.74" width="4.83" height="31.46" fill="#b5c4bd" stroke="none" stroke-width="1" />
<rect x="608.63" y="368.92" width="4.83" height="13.82" fill="#f6beb5" stroke="none" stroke-width="1" />
<rect x="614.06" y="391.37" width="4.83" height="22.83" fill="#b5c4bd" stroke="none" stroke-width="1" />
<rect x="614.06" y="377.84" width="4.83" height="13.52" fill="#f6beb5" stroke="none" stroke-width="1" />
<rect x="619.49" y="394.40" width="4.83" height="19.80" fill="#b5c4bd" stroke="none" stroke-width="1" />
<rect x="619.49" y="381.57" width="4.83" height="12.84" fill="#f6beb5" stroke="none" stroke-width="1" />
<rect x="624.92" y="396.76" width="4.83" height="17.44" fill="#b5c4bd" stroke="none" stroke-width="1" />
<rect x="624.92" y="385.09" width="4.83" height="11.66" fill="#f6beb5" stroke="none" stroke-width="1" />
<rect x="630.35" y="398.81" width="4.83" height="15.39" fill="#b5c4bd" stroke="none" stroke-width="1" />
<rect x="630.35" y="389.11" width="4.83" height="9.70" fill="#f6beb5" stroke="none" stroke-width="1" />
<rect x="635.78" y="400.09" width="4.83" height="14.11" fill="#b5c4bd" stroke="none" stroke-width="1" />
<rect x="635.78" y="391.07" width="4.83" height="9.02" fill="#f6beb5" stroke="none" stroke-width="1" />
<rect x="641.21" y="401.17" width="4.83" height="13.03" fill="#b5c4bd" stroke="none" stroke-width="1" />
<rect x="641.21" y="395.38" width="4.83" height="5.78" fill="#f6beb5" stroke="none" stroke-width="1" />
<rect x="646.64" y="402.44" width="4.83" height="11.76" fill="#b5c4bd" stroke="none" stroke-width="1" />
<rect x="646.64" y="396.46" width="4.83" height="5.98" fill="#f6beb5" stroke="none" stroke-width="1" />
<rect x="652.07" y="403.22" width="4.83" height="10.98" fill="#b5c4bd" stroke="none" stroke-width="1" />
<rect x="652.07" y="397.54" width="4.83" height="5.68" fill="#f6beb5" stroke="none" stroke-width="1" />
<rect x="657.50" y="404.79" width="4.83" height="9.41" fill="#b5c4bd" stroke="none" stroke-width="1" />
<rect x="657.50" y="399.11" width="4.83" height="5.68" fill="#f6beb5" stroke="none" stroke-width="1" />
<rect x="662.93" y="404.99" width="4.83" height="9.21" fill="#b5c4bd" stroke="none" stroke-width="1" />
<rect x="662.93" y="399.79" width="4.83" height="5.19" fill="#f6beb5" stroke="none" stroke-width="1" />
<rect x="668.36" y="406.07" width="4.83" height="8.13" fill="#b5c4bd" stroke="none" stroke-width="1" />
<rect x="668.36" y="401.36" width="4.83" height="4.70" fill="#f6beb5" stroke="none" stroke-width="1" />
<rect x="673.79" y="406.75" width="4.83" height="7.45" fill="#b5c4bd" stroke="none" stroke-width="1" />
<rect x="673.79" y="402.24" width="4.83" height="4.51" fill="#f6beb5" stroke="none" stroke-width="1" />
<rect x="679.22" y="407.54" width="4.83" height="6.66" fill="#b5c4bd" stroke="none" stroke-width="1" />
<rect x="679.22" y="402.73" width="4.83" height="4.80" fill="#f6beb5" stroke="none" stroke-width="1" />
<rect x="684.65" y="408.81" width="4.83" height="5.39" fill="#b5c4bd" stroke="none" stroke-width="1" />
<rect x="684.65" y="407.34" width="4.83" height="1.47" fill="#f6beb5" stroke="none" stroke-width="1" />
<rect x="690.08" y="409.20" width="4.83" height="5.00" fill="#b5c4bd" stroke="none" stroke-width="1" />
<rect x="690.08" y="407.83" width="4.83" height="1.37" fill="#f6beb5" stroke="none" stroke-width="1" />
<rect x="695.51" y="410.08" width="4.83" height="4.12" fill="#b5c4bd" stroke="none" stroke-width="1" />
<rect x="695.51" y="409.79" width="4.83" height="0.29" fill="#f6beb5" stroke="none" stroke-width="1" />
<rect x="700.94" y="410.48" width="4.83" height="3.72" fill="#b5c4bd" stroke="none" stroke-width="1" />
<rect x="700.94" y="409.99" width="4.83" height="0.49" fill="#f6beb5" stroke="none" stroke-width="1" />
<rect x="706.37" y="411.16" width="4.83" height="3.04" fill="#b5c4bd" stroke="none" stroke-width="1" />
<rect x="706.37" y="411.06" width="4.83" height="0.10" fill="#f6beb5" stroke="none" stroke-width="1" />
<rect x="711.80" y="411.26" width="4.83" height="2.94" fill="#b5c4bd" stroke="none" stroke-width="1" />
<rect x="711.80" y="411.06" width="4.83" height="0.20" fill="#f6beb5" stroke="none" stroke-width="1" />
<line x1="437.40" y1="414.30" x2="438.80" y2="414.30" stroke="#888" stroke-width="0.8" />
<text transform="translate(435.80,415.40) scale(1.05,1)" font-size="7.3" font-weight="bold" fill="#4f4f4f" text-anchor="end" font-family="Liberation Sans" stroke="#4f4f4f" stroke-width="0.28" textLength="13.62" lengthAdjust="spacingAndGlyphs">0.00</text>
<line x1="437.40" y1="390.15" x2="438.80" y2="390.15" stroke="#888" stroke-width="0.8" />
<text transform="translate(435.80,391.25) scale(1.05,1)" font-size="7.3" font-weight="bold" fill="#4f4f4f" text-anchor="end" font-family="Liberation Sans" stroke="#4f4f4f" stroke-width="0.28" textLength="13.62" lengthAdjust="spacingAndGlyphs">0.25</text>
<line x1="437.40" y1="366.00" x2="438.80" y2="366.00" stroke="#888" stroke-width="0.8" />
<text transform="translate(435.80,367.10) scale(1.05,1)" font-size="7.3" font-weight="bold" fill="#4f4f4f" text-anchor="end" font-family="Liberation Sans" stroke="#4f4f4f" stroke-width="0.28" textLength="13.62" lengthAdjust="spacingAndGlyphs">0.50</text>
<line x1="437.40" y1="341.85" x2="438.80" y2="341.85" stroke="#888" stroke-width="0.8" />
<text transform="translate(435.80,342.95) scale(1.05,1)" font-size="7.3" font-weight="bold" fill="#4f4f4f" text-anchor="end" font-family="Liberation Sans" stroke="#4f4f4f" stroke-width="0.28" textLength="13.62" lengthAdjust="spacingAndGlyphs">0.75</text>
<line x1="437.40" y1="317.70" x2="438.80" y2="317.70" stroke="#888" stroke-width="0.8" />
<text transform="translate(435.80,318.80) scale(1.05,1)" font-size="7.3" font-weight="bold" fill="#4f4f4f" text-anchor="end" font-family="Liberation Sans" stroke="#4f4f4f" stroke-width="0.28" textLength="13.62" lengthAdjust="spacingAndGlyphs">1.00</text>
<rect x="440.30" y="520.42" width="4.83" height="0.98" fill="#b699ba" stroke="none" stroke-width="1" />
<rect x="445.73" y="520.42" width="4.83" height="0.98" fill="#b699ba" stroke="none" stroke-width="1" />
<rect x="451.16" y="520.22" width="4.83" height="1.18" fill="#b699ba" stroke="none" stroke-width="1" />
<rect x="456.59" y="519.93" width="4.83" height="1.47" fill="#b699ba" stroke="none" stroke-width="1" />
<rect x="462.02" y="519.93" width="4.83" height="1.47" fill="#b699ba" stroke="none" stroke-width="1" />
<rect x="467.45" y="519.64" width="4.83" height="1.76" fill="#b699ba" stroke="none" stroke-width="1" />
<rect x="472.88" y="519.44" width="4.83" height="1.96" fill="#b699ba" stroke="none" stroke-width="1" />
<rect x="478.31" y="518.46" width="4.83" height="2.94" fill="#b699ba" stroke="none" stroke-width="1" />
<rect x="483.74" y="518.46" width="4.83" height="2.94" fill="#b699ba" stroke="none" stroke-width="1" />
<rect x="489.17" y="516.70" width="4.83" height="4.70" fill="#b699ba" stroke="none" stroke-width="1" />
<rect x="494.60" y="516.70" width="4.83" height="4.70" fill="#b699ba" stroke="none" stroke-width="1" />
<rect x="500.03" y="513.56" width="4.83" height="7.84" fill="#b699ba" stroke="none" stroke-width="1" />
<rect x="505.46" y="510.62" width="4.83" height="10.78" fill="#b699ba" stroke="none" stroke-width="1" />
<rect x="510.89" y="509.93" width="4.83" height="11.47" fill="#b699ba" stroke="none" stroke-width="1" />
<rect x="516.32" y="509.64" width="4.83" height="11.76" fill="#b699ba" stroke="none" stroke-width="1" />
<rect x="521.75" y="506.31" width="4.83" height="15.09" fill="#b699ba" stroke="none" stroke-width="1" />
<rect x="527.18" y="504.45" width="4.83" height="16.95" fill="#b699ba" stroke="none" stroke-width="1" />
<rect x="532.61" y="499.55" width="4.83" height="21.85" fill="#b699ba" stroke="none" stroke-width="1" />
<rect x="532.61" y="497.59" width="4.83" height="1.96" fill="#f6beb5" stroke="none" stroke-width="1" />
<rect x="538.04" y="498.86" width="4.83" height="22.54" fill="#b699ba" stroke="none" stroke-width="1" />
<rect x="538.04" y="497.10" width="4.83" height="1.76" fill="#f6beb5" stroke="none" stroke-width="1" />
<rect x="543.47" y="488.08" width="4.83" height="33.32" fill="#b699ba" stroke="none" stroke-width="1" />
<rect x="543.47" y="486.41" width="4.83" height="1.67" fill="#f6beb5" stroke="none" stroke-width="1" />
<rect x="548.90" y="473.48" width="4.83" height="47.92" fill="#b699ba" stroke="none" stroke-width="1" />
<rect x="554.33" y="459.66" width="4.83" height="61.74" fill="#b699ba" stroke="none" stroke-width="1" />
<rect x="554.33" y="458.88" width="4.83" height="0.78" fill="#b9b3de" stroke="none" stroke-width="1" />
<rect x="559.76" y="453.39" width="4.83" height="68.01" fill="#b699ba" stroke="none" stroke-width="1" />
<rect x="559.76" y="451.23" width="4.83" height="2.16" fill="#b9b3de" stroke="none" stroke-width="1" />
<rect x="565.19" y="442.41" width="4.83" height="78.99" fill="#b699ba" stroke="none" stroke-width="1" />
<rect x="570.62" y="433.40" width="4.83" height="88.00" fill="#b699ba" stroke="none" stroke-width="1" />
<rect x="576.05" y="426.14" width="4.83" height="95.26" fill="#b699ba" stroke="none" stroke-width="1" />
<rect x="581.48" y="429.48" width="4.83" height="91.92" fill="#b699ba" stroke="none" stroke-width="1" />
<rect x="586.91" y="446.33" width="4.83" height="75.07" fill="#b699ba" stroke="none" stroke-width="1" />
<rect x="586.91" y="444.86" width="4.83" height="1.47" fill="#b9b3de" stroke="none" stroke-width="1" />
<rect x="592.34" y="453.98" width="4.83" height="67.42" fill="#b699ba" stroke="none" stroke-width="1" />
<rect x="592.34" y="451.92" width="4.83" height="2.06" fill="#b9b3de" stroke="none" stroke-width="1" />
<rect x="597.77" y="463.78" width="4.83" height="57.62" fill="#b699ba" stroke="none" stroke-width="1" />
<rect x="597.77" y="462.60" width="4.83" height="1.18" fill="#b9b3de" stroke="none" stroke-width="1" />
<rect x="603.20" y="469.07" width="4.83" height="52.33" fill="#b699ba" stroke="none" stroke-width="1" />
<rect x="608.63" y="479.85" width="4.83" height="41.55" fill="#b699ba" stroke="none" stroke-width="1" />
<rect x="608.63" y="476.12" width="4.83" height="3.72" fill="#f6beb5" stroke="none" stroke-width="1" />
<rect x="614.06" y="489.16" width="4.83" height="32.24" fill="#b699ba" stroke="none" stroke-width="1" />
<rect x="614.06" y="485.04" width="4.83" height="4.12" fill="#f6beb5" stroke="none" stroke-width="1" />
<rect x="619.49" y="493.96" width="4.83" height="27.44" fill="#b699ba" stroke="none" stroke-width="1" />
<rect x="619.49" y="488.77" width="4.83" height="5.19" fill="#f6beb5" stroke="none" stroke-width="1" />
<rect x="624.92" y="497.39" width="4.83" height="24.01" fill="#b699ba" stroke="none" stroke-width="1" />
<rect x="624.92" y="492.29" width="4.83" height="5.10" fill="#f6beb5" stroke="none" stroke-width="1" />
<rect x="630.35" y="500.23" width="4.83" height="21.17" fill="#b699ba" stroke="none" stroke-width="1" />
<rect x="630.35" y="496.31" width="4.83" height="3.92" fill="#f6beb5" stroke="none" stroke-width="1" />
<rect x="635.78" y="501.80" width="4.83" height="19.60" fill="#b699ba" stroke="none" stroke-width="1" />
<rect x="635.78" y="498.27" width="4.83" height="3.53" fill="#f6beb5" stroke="none" stroke-width="1" />
<rect x="641.21" y="505.72" width="4.83" height="15.68" fill="#b699ba" stroke="none" stroke-width="1" />
<rect x="641.21" y="502.58" width="4.83" height="3.14" fill="#f6beb5" stroke="none" stroke-width="1" />
<rect x="646.64" y="506.70" width="4.83" height="14.70" fill="#b699ba" stroke="none" stroke-width="1" />
<rect x="646.64" y="503.66" width="4.83" height="3.04" fill="#f6beb5" stroke="none" stroke-width="1" />
<rect x="652.07" y="507.39" width="4.83" height="14.01" fill="#b699ba" stroke="none" stroke-width="1" />
<rect x="652.07" y="504.74" width="4.83" height="2.65" fill="#f6beb5" stroke="none" stroke-width="1" />
<rect x="657.50" y="508.66" width="4.83" height="12.74" fill="#b699ba" stroke="none" stroke-width="1" />
<rect x="657.50" y="506.31" width="4.83" height="2.35" fill="#f6beb5" stroke="none" stroke-width="1" />
<rect x="662.93" y="509.15" width="4.83" height="12.25" fill="#b699ba" stroke="none" stroke-width="1" />
<rect x="662.93" y="506.99" width="4.83" height="2.16" fill="#f6beb5" stroke="none" stroke-width="1" />
<rect x="668.36" y="510.62" width="4.83" height="10.78" fill="#b699ba" stroke="none" stroke-width="1" />
<rect x="668.36" y="508.56" width="4.83" height="2.06" fill="#f6beb5" stroke="none" stroke-width="1" />
<rect x="673.79" y="510.91" width="4.83" height="10.49" fill="#b699ba" stroke="none" stroke-width="1" />
<rect x="673.79" y="509.44" width="4.83" height="1.47" fill="#f6beb5" stroke="none" stroke-width="1" />
<rect x="679.22" y="511.60" width="4.83" height="9.80" fill="#b699ba" stroke="none" stroke-width="1" />
<rect x="679.22" y="509.93" width="4.83" height="1.67" fill="#f6beb5" stroke="none" stroke-width="1" />
<rect x="684.65" y="515.32" width="4.83" height="6.08" fill="#b699ba" stroke="none" stroke-width="1" />
<rect x="684.65" y="514.54" width="4.83" height="0.78" fill="#f6beb5" stroke="none" stroke-width="1" />
<rect x="690.08" y="515.91" width="4.83" height="5.49" fill="#b699ba" stroke="none" stroke-width="1" />
<rect x="690.08" y="515.03" width="4.83" height="0.88" fill="#f6beb5" stroke="none" stroke-width="1" />
<rect x="695.51" y="517.68" width="4.83" height="3.72" fill="#b699ba" stroke="none" stroke-width="1" />
<rect x="695.51" y="516.99" width="4.83" height="0.69" fill="#f6beb5" stroke="none" stroke-width="1" />
<rect x="700.94" y="517.87" width="4.83" height="3.53" fill="#b699ba" stroke="none" stroke-width="1" />
<rect x="700.94" y="517.19" width="4.83" height="0.69" fill="#f6beb5" stroke="none" stroke-width="1" />
<rect x="706.37" y="518.95" width="4.83" height="2.45" fill="#b699ba" stroke="none" stroke-width="1" />
<rect x="706.37" y="518.26" width="4.83" height="0.69" fill="#f6beb5" stroke="none" stroke-width="1" />
<rect x="711.80" y="518.95" width="4.83" height="2.45" fill="#b699ba" stroke="none" stroke-width="1" />
<rect x="711.80" y="518.26" width="4.83" height="0.69" fill="#f6beb5" stroke="none" stroke-width="1" />
<line x1="437.40" y1="521.90" x2="438.80" y2="521.90" stroke="#888" stroke-width="0.8" />
<text transform="translate(435.80,523.00) scale(1.05,1)" font-size="7.3" font-weight="bold" fill="#4f4f4f" text-anchor="end" font-family="Liberation Sans" stroke="#4f4f4f" stroke-width="0.28" textLength="13.62" lengthAdjust="spacingAndGlyphs">0.00</text>
<line x1="437.40" y1="497.75" x2="438.80" y2="497.75" stroke="#888" stroke-width="0.8" />
<text transform="translate(435.80,498.85) scale(1.05,1)" font-size="7.3" font-weight="bold" fill="#4f4f4f" text-anchor="end" font-family="Liberation Sans" stroke="#4f4f4f" stroke-width="0.28" textLength="13.62" lengthAdjust="spacingAndGlyphs">0.25</text>
<line x1="437.40" y1="473.60" x2="438.80" y2="473.60" stroke="#888" stroke-width="0.8" />
<text transform="translate(435.80,474.70) scale(1.05,1)" font-size="7.3" font-weight="bold" fill="#4f4f4f" text-anchor="end" font-family="Liberation Sans" stroke="#4f4f4f" stroke-width="0.28" textLength="13.62" lengthAdjust="spacingAndGlyphs">0.50</text>
<line x1="437.40" y1="449.45" x2="438.80" y2="449.45" stroke="#888" stroke-width="0.8" />
<text transform="translate(435.80,450.55) scale(1.05,1)" font-size="7.3" font-weight="bold" fill="#4f4f4f" text-anchor="end" font-family="Liberation Sans" stroke="#4f4f4f" stroke-width="0.28" textLength="13.62" lengthAdjust="spacingAndGlyphs">0.75</text>
<line x1="437.40" y1="425.30" x2="438.80" y2="425.30" stroke="#888" stroke-width="0.8" />
<text transform="translate(435.80,426.40) scale(1.05,1)" font-size="7.3" font-weight="bold" fill="#4f4f4f" text-anchor="end" font-family="Liberation Sans" stroke="#4f4f4f" stroke-width="0.28" textLength="13.62" lengthAdjust="spacingAndGlyphs">1.00</text>
<line x1="438.40" y1="206.50" x2="438.40" y2="522.00" stroke="#b0b0b0" stroke-width="0.9" />
<line x1="575.50" y1="189.50" x2="575.50" y2="522.00" stroke="#707070" stroke-width="1.0" />
<line x1="603.00" y1="189.50" x2="603.00" y2="522.00" stroke="#707070" stroke-width="1.0" />
<path d="M572.3,177.7 L578.7,177.7 L575.5,185.6 Z" fill="#e8821f" stroke="#6b3b0b" stroke-width="0.5"/>
<path d="M599.9,177.7 L606.3,177.7 L603.1,185.6 Z" fill="#f4e43a" stroke="#6b6010" stroke-width="0.5"/>
<rect x="444.30" y="208.70" width="14.90" height="8.10" fill="#f6beb5" stroke="none" stroke-width="1" />
<text transform="translate(463.50,216.80) scale(1.05,1)" font-size="10.6" font-weight="bold" fill="#231f20" text-anchor="start" font-family="Liberation Sans" stroke="#231f20" stroke-width="0.28">NHEJi</text>
<rect x="444.30" y="317.50" width="14.90" height="7.90" fill="#f6beb5" stroke="none" stroke-width="1" />
<text transform="translate(463.50,325.40) scale(1.05,1)" font-size="10.6" font-weight="bold" fill="#231f20" text-anchor="start" font-family="Liberation Sans" stroke="#231f20" stroke-width="0.28">NHEJi</text>
<rect x="444.30" y="331.80" width="14.90" height="8.00" fill="#a9dcd8" stroke="none" stroke-width="1" />
<text transform="translate(463.50,339.80) scale(1.05,1)" font-size="10.6" font-weight="bold" fill="#231f20" text-anchor="start" font-family="Liberation Sans" stroke="#231f20" stroke-width="0.28" textLength="80.19" lengthAdjust="spacingAndGlyphs">NHEJi + ART558</text>
<rect x="444.30" y="425.60" width="14.90" height="8.00" fill="#f6beb5" stroke="none" stroke-width="1" />
<text transform="translate(463.50,433.50) scale(1.05,1)" font-size="10.6" font-weight="bold" fill="#231f20" text-anchor="start" font-family="Liberation Sans" stroke="#231f20" stroke-width="0.28">NHEJi</text>
<rect x="444.30" y="440.00" width="14.90" height="7.80" fill="#b9b3de" stroke="none" stroke-width="1" />
<text transform="translate(463.50,447.60) scale(1.05,1)" font-size="10.6" font-weight="bold" fill="#231f20" text-anchor="start" font-family="Liberation Sans" stroke="#231f20" stroke-width="0.28" textLength="66.00" lengthAdjust="spacingAndGlyphs">NHEJi + D-I03</text>
<text transform="translate(414.6,361.2) rotate(-90)" font-size="11.6" font-weight="bold" fill="#231f20" text-anchor="middle" font-family="Liberation Sans" textLength="103.5" lengthAdjust="spacingAndGlyphs">Deletion frequency</text>
<text x="442.71" y="527.2" font-size="7.6" font-weight="bold" fill="#231f20" text-anchor="middle" font-family="Liberation Mono">G</text>
<text x="448.14" y="527.2" font-size="7.6" font-weight="bold" fill="#231f20" text-anchor="middle" font-family="Liberation Mono">A</text>
<text x="453.57" y="527.2" font-size="7.6" font-weight="bold" fill="#231f20" text-anchor="middle" font-family="Liberation Mono">T</text>
<text x="459.00" y="527.2" font-size="7.6" font-weight="bold" fill="#231f20" text-anchor="middle" font-family="Liberation Mono">T</text>
<text x="464.44" y="527.2" font-size="7.6" font-weight="bold" fill="#231f20" text-anchor="middle" font-family="Liberation Mono">T</text>
<text x="469.86" y="527.2" font-size="7.6" font-weight="bold" fill="#231f20" text-anchor="middle" font-family="Liberation Mono">T</text>
<text x="475.29" y="527.2" font-size="7.6" font-weight="bold" fill="#231f20" text-anchor="middle" font-family="Liberation Mono">A</text>
<text x="480.72" y="527.2" font-size="7.6" font-weight="bold" fill="#231f20" text-anchor="middle" font-family="Liberation Mono">A</text>
<text x="486.15" y="527.2" font-size="7.6" font-weight="bold" fill="#231f20" text-anchor="middle" font-family="Liberation Mono">T</text>
<text x="491.58" y="527.2" font-size="7.6" font-weight="bold" fill="#231f20" text-anchor="middle" font-family="Liberation Mono">T</text>
<text x="497.01" y="527.2" font-size="7.6" font-weight="bold" fill="#231f20" text-anchor="middle" font-family="Liberation Mono">A</text>
<text x="502.44" y="527.2" font-size="7.6" font-weight="bold" fill="#231f20" text-anchor="middle" font-family="Liberation Mono">G</text>
<text x="507.87" y="527.2" font-size="7.6" font-weight="bold" fill="#231f20" text-anchor="middle" font-family="Liberation Mono">G</text>
<text x="513.31" y="527.2" font-size="7.6" font-weight="bold" fill="#231f20" text-anchor="middle" font-family="Liberation Mono">T</text>
<text x="518.74" y="527.2" font-size="7.6" font-weight="bold" fill="#231f20" text-anchor="middle" font-family="Liberation Mono">A</text>
<text x="524.17" y="527.2" font-size="7.6" font-weight="bold" fill="#231f20" text-anchor="middle" font-family="Liberation Mono">A</text>
<text x="529.60" y="527.2" font-size="7.6" font-weight="bold" fill="#231f20" text-anchor="middle" font-family="Liberation Mono">G</text>
<text x="535.02" y="527.2" font-size="7.6" font-weight="bold" fill="#231f20" text-anchor="middle" font-family="Liberation Mono">T</text>
<text x="540.46" y="527.2" font-size="7.6" font-weight="bold" fill="#231f20" text-anchor="middle" font-family="Liberation Mono">A</text>
<text x="545.88" y="527.2" font-size="7.6" font-weight="bold" fill="#231f20" text-anchor="middle" font-family="Liberation Mono">A</text>
<text x="551.32" y="527.2" font-size="7.6" font-weight="bold" fill="#231f20" text-anchor="middle" font-family="Liberation Mono">G</text>
<text x="556.75" y="527.2" font-size="7.6" font-weight="bold" fill="#231f20" text-anchor="middle" font-family="Liberation Mono">C</text>
<text x="562.18" y="527.2" font-size="7.6" font-weight="bold" fill="#231f20" text-anchor="middle" font-family="Liberation Mono">A</text>
<text x="567.61" y="527.2" font-size="7.6" font-weight="bold" fill="#231f20" text-anchor="middle" font-family="Liberation Mono">C</text>
<text x="573.03" y="527.2" font-size="7.6" font-weight="bold" fill="#231f20" text-anchor="middle" font-family="Liberation Mono">C</text>
<text x="578.47" y="527.2" font-size="7.6" font-weight="bold" fill="#22a7e2" text-anchor="middle" font-family="Liberation Mono">T</text>
<text x="583.90" y="527.2" font-size="7.6" font-weight="bold" fill="#22a7e2" text-anchor="middle" font-family="Liberation Mono">T</text>
<text x="589.33" y="527.2" font-size="7.6" font-weight="bold" fill="#22a7e2" text-anchor="middle" font-family="Liberation Mono">T</text>
<text x="594.75" y="527.2" font-size="7.6" font-weight="bold" fill="#22a7e2" text-anchor="middle" font-family="Liberation Mono">T</text>
<text x="600.19" y="527.2" font-size="7.6" font-weight="bold" fill="#22a7e2" text-anchor="middle" font-family="Liberation Mono">T</text>
<text x="605.62" y="527.2" font-size="7.6" font-weight="bold" fill="#231f20" text-anchor="middle" font-family="Liberation Mono">G</text>
<text x="611.04" y="527.2" font-size="7.6" font-weight="bold" fill="#231f20" text-anchor="middle" font-family="Liberation Mono">T</text>
<text x="616.48" y="527.2" font-size="7.6" font-weight="bold" fill="#231f20" text-anchor="middle" font-family="Liberation Mono">G</text>
<text x="621.91" y="527.2" font-size="7.6" font-weight="bold" fill="#231f20" text-anchor="middle" font-family="Liberation Mono">T</text>
<text x="627.34" y="527.2" font-size="7.6" font-weight="bold" fill="#231f20" text-anchor="middle" font-family="Liberation Mono">G</text>
<text x="632.76" y="527.2" font-size="7.6" font-weight="bold" fill="#231f20" text-anchor="middle" font-family="Liberation Mono">T</text>
<text x="638.20" y="527.2" font-size="7.6" font-weight="bold" fill="#231f20" text-anchor="middle" font-family="Liberation Mono">T</text>
<text x="643.62" y="527.2" font-size="7.6" font-weight="bold" fill="#231f20" text-anchor="middle" font-family="Liberation Mono">G</text>
<text x="649.05" y="527.2" font-size="7.6" font-weight="bold" fill="#231f20" text-anchor="middle" font-family="Liberation Mono">A</text>
<text x="654.49" y="527.2" font-size="7.6" font-weight="bold" fill="#231f20" text-anchor="middle" font-family="Liberation Mono">C</text>
<text x="659.92" y="527.2" font-size="7.6" font-weight="bold" fill="#231f20" text-anchor="middle" font-family="Liberation Mono">A</text>
<text x="665.35" y="527.2" font-size="7.6" font-weight="bold" fill="#231f20" text-anchor="middle" font-family="Liberation Mono">T</text>
<text x="670.77" y="527.2" font-size="7.6" font-weight="bold" fill="#231f20" text-anchor="middle" font-family="Liberation Mono">A</text>
<text x="676.21" y="527.2" font-size="7.6" font-weight="bold" fill="#231f20" text-anchor="middle" font-family="Liberation Mono">A</text>
<text x="681.63" y="527.2" font-size="7.6" font-weight="bold" fill="#22a7e2" text-anchor="middle" font-family="Liberation Mono">T</text>
<text x="687.07" y="527.2" font-size="7.6" font-weight="bold" fill="#22a7e2" text-anchor="middle" font-family="Liberation Mono">T</text>
<text x="692.50" y="527.2" font-size="7.6" font-weight="bold" fill="#22a7e2" text-anchor="middle" font-family="Liberation Mono">T</text>
<text x="697.93" y="527.2" font-size="7.6" font-weight="bold" fill="#22a7e2" text-anchor="middle" font-family="Liberation Mono">T</text>
<text x="703.36" y="527.2" font-size="7.6" font-weight="bold" fill="#22a7e2" text-anchor="middle" font-family="Liberation Mono">T</text>
<text x="708.78" y="527.2" font-size="7.6" font-weight="bold" fill="#22a7e2" text-anchor="middle" font-family="Liberation Mono">T</text>
<text x="714.22" y="527.2" font-size="7.6" font-weight="bold" fill="#231f20" text-anchor="middle" font-family="Liberation Mono">A</text>
<text transform="translate(575.00,540.90) scale(1.05,1)" font-size="11.2" font-weight="bold" fill="#231f20" text-anchor="middle" font-family="Liberation Sans" stroke="#231f20" stroke-width="0.28" textLength="113.24" lengthAdjust="spacingAndGlyphs">Position of nucleotide</text>
<line x1="30.00" y1="632.30" x2="30.00" y2="816.60" stroke="#0a0a0a" stroke-width="1.5" />
<line x1="25.00" y1="816.60" x2="30.00" y2="816.60" stroke="#0a0a0a" stroke-width="1.3" />
<text transform="translate(20.40,819.40) scale(0.95,1)" font-size="10.0" font-weight="bold" fill="#231f20" text-anchor="end" font-family="Liberation Sans" stroke="#231f20" stroke-width="0.28">0</text>
<line x1="25.00" y1="770.70" x2="30.00" y2="770.70" stroke="#0a0a0a" stroke-width="1.3" />
<text transform="translate(22.20,774.20) scale(1.05,1)" font-size="10.0" font-weight="bold" fill="#231f20" text-anchor="end" font-family="Liberation Sans" stroke="#231f20" stroke-width="0.28" textLength="10.67" lengthAdjust="spacingAndGlyphs">20</text>
<line x1="25.00" y1="724.80" x2="30.00" y2="724.80" stroke="#0a0a0a" stroke-width="1.3" />
<text transform="translate(22.20,728.30) scale(1.05,1)" font-size="10.0" font-weight="bold" fill="#231f20" text-anchor="end" font-family="Liberation Sans" stroke="#231f20" stroke-width="0.28" textLength="10.67" lengthAdjust="spacingAndGlyphs">40</text>
<line x1="25.00" y1="678.90" x2="30.00" y2="678.90" stroke="#0a0a0a" stroke-width="1.3" />
<text transform="translate(22.20,682.40) scale(1.05,1)" font-size="10.0" font-weight="bold" fill="#231f20" text-anchor="end" font-family="Liberation Sans" stroke="#231f20" stroke-width="0.28" textLength="10.67" lengthAdjust="spacingAndGlyphs">60</text>
<line x1="25.00" y1="633.00" x2="30.00" y2="633.00" stroke="#0a0a0a" stroke-width="1.3" />
<text transform="translate(22.20,636.50) scale(1.05,1)" font-size="10.0" font-weight="bold" fill="#231f20" text-anchor="end" font-family="Liberation Sans" stroke="#231f20" stroke-width="0.28" textLength="10.67" lengthAdjust="spacingAndGlyphs">80</text>
<line x1="24.70" y1="816.60" x2="383.50" y2="816.60" stroke="#0a0a0a" stroke-width="1.6" />
<line x1="49.60" y1="816.60" x2="49.60" y2="821.40" stroke="#0a0a0a" stroke-width="1.3" />
<line x1="94.48" y1="816.60" x2="94.48" y2="821.40" stroke="#0a0a0a" stroke-width="1.3" />
<line x1="139.36" y1="816.60" x2="139.36" y2="821.40" stroke="#0a0a0a" stroke-width="1.3" />
<line x1="184.24" y1="816.60" x2="184.24" y2="821.40" stroke="#0a0a0a" stroke-width="1.3" />
<line x1="229.12" y1="816.60" x2="229.12" y2="821.40" stroke="#0a0a0a" stroke-width="1.3" />
<line x1="274.00" y1="816.60" x2="274.00" y2="821.40" stroke="#0a0a0a" stroke-width="1.3" />
<line x1="318.88" y1="816.60" x2="318.88" y2="821.40" stroke="#0a0a0a" stroke-width="1.3" />
<line x1="363.76" y1="816.60" x2="363.76" y2="821.40" stroke="#0a0a0a" stroke-width="1.3" />
<text transform="translate(49.60,835.60) scale(1.05,1)" font-size="8.8" font-weight="bold" fill="#231f20" text-anchor="middle" font-family="Liberation Sans" stroke="#231f20" stroke-width="0.28">WT</text>
<text transform="translate(94.48,835.60) scale(1.05,1)" font-size="8.8" font-weight="bold" fill="#231f20" text-anchor="middle" font-family="Liberation Sans" stroke="#231f20" stroke-width="0.28">insertion</text>
<text transform="translate(139.36,835.60) scale(1.05,1)" font-size="8.8" font-weight="bold" fill="#231f20" text-anchor="middle" font-family="Liberation Sans" stroke="#231f20" stroke-width="0.28">deletion</text>
<text transform="translate(139.36,846.00) scale(1.05,1)" font-size="8.8" font-weight="bold" fill="#231f20" text-anchor="middle" font-family="Liberation Sans" stroke="#231f20" stroke-width="0.28">&lt;50 nt</text>
<text transform="translate(184.24,835.60) scale(1.05,1)" font-size="8.8" font-weight="bold" fill="#231f20" text-anchor="middle" font-family="Liberation Sans" stroke="#231f20" stroke-width="0.28">deletion</text>
<text transform="translate(184.24,846.00) scale(1.05,1)" font-size="8.8" font-weight="bold" fill="#231f20" text-anchor="middle" font-family="Liberation Sans" stroke="#231f20" stroke-width="0.28">&gt;=50 nt</text>
<text transform="translate(229.12,835.60) scale(1.05,1)" font-size="8.8" font-weight="bold" fill="#231f20" text-anchor="middle" font-family="Liberation Sans" stroke="#231f20" stroke-width="0.28">complex</text>
<text transform="translate(229.12,846.00) scale(1.05,1)" font-size="8.8" font-weight="bold" fill="#231f20" text-anchor="middle" font-family="Liberation Sans" stroke="#231f20" stroke-width="0.28">indel</text>
<text transform="translate(274.00,835.60) scale(1.05,1)" font-size="8.8" font-weight="bold" fill="#231f20" text-anchor="middle" font-family="Liberation Sans" stroke="#231f20" stroke-width="0.28">perfect</text>
<text transform="translate(274.00,846.00) scale(1.05,1)" font-size="8.8" font-weight="bold" fill="#231f20" text-anchor="middle" font-family="Liberation Sans" stroke="#231f20" stroke-width="0.28">HDR</text>
<text transform="translate(318.88,835.60) scale(1.05,1)" font-size="8.8" font-weight="bold" fill="#231f20" text-anchor="middle" font-family="Liberation Sans" stroke="#231f20" stroke-width="0.28">imprecise</text>
<text transform="translate(318.88,846.00) scale(1.05,1)" font-size="8.8" font-weight="bold" fill="#231f20" text-anchor="middle" font-family="Liberation Sans" stroke="#231f20" stroke-width="0.28">integration</text>
<text transform="translate(363.76,835.60) scale(1.05,1)" font-size="8.8" font-weight="bold" fill="#231f20" text-anchor="middle" font-family="Liberation Sans" stroke="#231f20" stroke-width="0.28">genomic</text>
<text transform="translate(363.76,846.00) scale(1.05,1)" font-size="8.8" font-weight="bold" fill="#231f20" text-anchor="middle" font-family="Liberation Sans" stroke="#231f20" stroke-width="0.28">insertion</text>
<line x1="35.40" y1="851.00" x2="250.80" y2="851.00" stroke="#837567" stroke-width="1.2" />
<line x1="254.00" y1="851.00" x2="342.60" y2="851.00" stroke="#837567" stroke-width="1.2" />
<text transform="translate(143.40,861.80) scale(1.05,1)" font-size="9.6" font-weight="bold" fill="#64574b" text-anchor="middle" font-family="Liberation Sans" stroke="#64574b" stroke-width="0.28" textLength="128.38" lengthAdjust="spacingAndGlyphs">Repair w/o donor integration</text>
<text transform="translate(298.70,861.80) scale(1.05,1)" font-size="9.6" font-weight="bold" fill="#64574b" text-anchor="middle" font-family="Liberation Sans" stroke="#64574b" stroke-width="0.28" textLength="78.19" lengthAdjust="spacingAndGlyphs">Donor integration</text>
<line x1="33.35" y1="816.10" x2="41.35" y2="816.10" stroke="#0a0a0a" stroke-width="1.2" />
<rect x="46.20" y="815.45" width="6.70" height="1.15" fill="#db86bf" stroke="#0a0a0a" stroke-width="1.3" />
<line x1="49.55" y1="814.76" x2="49.55" y2="816.14" stroke="#0a0a0a" stroke-width="1.1" />
<line x1="46.95" y1="814.76" x2="52.15" y2="814.76" stroke="#0a0a0a" stroke-width="1.2" />
<line x1="47.35" y1="816.14" x2="51.75" y2="816.14" stroke="#0a0a0a" stroke-width="1.1" />
<circle cx="49.55" cy="816.44" r="1.15" fill="#111"/>
<circle cx="49.55" cy="815.04" r="1.0" fill="#111"/>
<line x1="57.85" y1="816.10" x2="65.85" y2="816.10" stroke="#0a0a0a" stroke-width="1.2" />
<line x1="78.23" y1="816.10" x2="86.23" y2="816.10" stroke="#0a0a0a" stroke-width="1.2" />
<line x1="90.48" y1="816.10" x2="98.48" y2="816.10" stroke="#0a0a0a" stroke-width="1.2" />
<line x1="102.73" y1="816.10" x2="110.73" y2="816.10" stroke="#0a0a0a" stroke-width="1.2" />
<rect x="123.71" y="793.65" width="6.70" height="22.95" fill="#5dc9f0" stroke="#0a0a0a" stroke-width="1.3" />
<line x1="127.06" y1="792.73" x2="127.06" y2="794.57" stroke="#0a0a0a" stroke-width="1.1" />
<line x1="124.46" y1="792.73" x2="129.66" y2="792.73" stroke="#0a0a0a" stroke-width="1.2" />
<line x1="124.86" y1="794.57" x2="129.26" y2="794.57" stroke="#0a0a0a" stroke-width="1.1" />
<circle cx="127.06" cy="794.87" r="1.15" fill="#111"/>
<circle cx="127.06" cy="793.10" r="1.0" fill="#111"/>
<rect x="135.96" y="799.62" width="6.70" height="16.98" fill="#db86bf" stroke="#0a0a0a" stroke-width="1.3" />
<line x1="139.31" y1="798.01" x2="139.31" y2="800.54" stroke="#0a0a0a" stroke-width="1.1" />
<line x1="136.71" y1="798.01" x2="141.91" y2="798.01" stroke="#0a0a0a" stroke-width="1.2" />
<line x1="137.11" y1="800.54" x2="141.51" y2="800.54" stroke="#0a0a0a" stroke-width="1.1" />
<circle cx="139.31" cy="800.84" r="1.15" fill="#111"/>
<circle cx="139.31" cy="798.52" r="1.0" fill="#111"/>
<rect x="148.21" y="799.16" width="6.70" height="17.44" fill="#c7db84" stroke="#0a0a0a" stroke-width="1.3" />
<line x1="151.56" y1="795.95" x2="151.56" y2="801.68" stroke="#0a0a0a" stroke-width="1.1" />
<line x1="148.96" y1="795.95" x2="154.16" y2="795.95" stroke="#0a0a0a" stroke-width="1.2" />
<line x1="149.36" y1="801.68" x2="153.76" y2="801.68" stroke="#0a0a0a" stroke-width="1.1" />
<circle cx="151.56" cy="801.98" r="1.15" fill="#111"/>
<circle cx="151.56" cy="797.09" r="1.0" fill="#111"/>
<rect x="168.59" y="813.85" width="6.70" height="2.75" fill="#5dc9f0" stroke="#0a0a0a" stroke-width="1.3" />
<line x1="171.94" y1="813.39" x2="171.94" y2="814.31" stroke="#0a0a0a" stroke-width="1.1" />
<line x1="169.34" y1="813.39" x2="174.54" y2="813.39" stroke="#0a0a0a" stroke-width="1.2" />
<line x1="169.74" y1="814.31" x2="174.14" y2="814.31" stroke="#0a0a0a" stroke-width="1.1" />
<circle cx="171.94" cy="814.61" r="1.15" fill="#111"/>
<circle cx="171.94" cy="813.57" r="1.0" fill="#111"/>
<rect x="180.84" y="815.68" width="6.70" height="0.92" fill="#db86bf" stroke="#0a0a0a" stroke-width="1.3" />
<rect x="193.09" y="813.39" width="6.70" height="3.21" fill="#c7db84" stroke="#0a0a0a" stroke-width="1.3" />
<line x1="196.44" y1="812.93" x2="196.44" y2="813.85" stroke="#0a0a0a" stroke-width="1.1" />
<line x1="193.84" y1="812.93" x2="199.04" y2="812.93" stroke="#0a0a0a" stroke-width="1.2" />
<line x1="194.24" y1="813.85" x2="198.64" y2="813.85" stroke="#0a0a0a" stroke-width="1.1" />
<circle cx="196.44" cy="814.15" r="1.15" fill="#111"/>
<circle cx="196.44" cy="813.11" r="1.0" fill="#111"/>
<rect x="213.47" y="815.22" width="6.70" height="1.38" fill="#5dc9f0" stroke="#0a0a0a" stroke-width="1.3" />
<rect x="225.72" y="815.91" width="6.70" height="0.69" fill="#db86bf" stroke="#0a0a0a" stroke-width="1.3" />
<rect x="237.97" y="815.22" width="6.70" height="1.38" fill="#c7db84" stroke="#0a0a0a" stroke-width="1.3" />
<rect x="258.35" y="674.77" width="6.70" height="141.83" fill="#5dc9f0" stroke="#0a0a0a" stroke-width="1.3" />
<line x1="261.70" y1="668.80" x2="261.70" y2="681.20" stroke="#0a0a0a" stroke-width="1.1" />
<line x1="259.10" y1="668.80" x2="264.30" y2="668.80" stroke="#0a0a0a" stroke-width="1.2" />
<line x1="259.50" y1="681.20" x2="263.90" y2="681.20" stroke="#0a0a0a" stroke-width="1.1" />
<circle cx="261.70" cy="681.50" r="1.15" fill="#111"/>
<circle cx="261.70" cy="671.28" r="1.0" fill="#111"/>
<rect x="270.60" y="667.20" width="6.70" height="149.40" fill="#db86bf" stroke="#0a0a0a" stroke-width="1.3" />
<line x1="273.95" y1="659.16" x2="273.95" y2="674.54" stroke="#0a0a0a" stroke-width="1.1" />
<line x1="271.35" y1="659.16" x2="276.55" y2="659.16" stroke="#0a0a0a" stroke-width="1.2" />
<line x1="271.75" y1="674.54" x2="276.15" y2="674.54" stroke="#0a0a0a" stroke-width="1.1" />
<circle cx="273.95" cy="674.84" r="1.15" fill="#111"/>
<circle cx="273.95" cy="662.24" r="1.0" fill="#111"/>
<rect x="282.85" y="649.52" width="6.70" height="167.08" fill="#c7db84" stroke="#0a0a0a" stroke-width="1.3" />
<line x1="286.20" y1="640.57" x2="286.20" y2="658.02" stroke="#0a0a0a" stroke-width="1.1" />
<line x1="283.60" y1="640.57" x2="288.80" y2="640.57" stroke="#0a0a0a" stroke-width="1.2" />
<line x1="284.00" y1="658.02" x2="288.40" y2="658.02" stroke="#0a0a0a" stroke-width="1.1" />
<circle cx="286.20" cy="658.32" r="1.15" fill="#111"/>
<circle cx="286.20" cy="644.06" r="1.0" fill="#111"/>
<rect x="303.23" y="758.08" width="6.70" height="58.52" fill="#5dc9f0" stroke="#0a0a0a" stroke-width="1.3" />
<line x1="306.58" y1="750.73" x2="306.58" y2="764.96" stroke="#0a0a0a" stroke-width="1.1" />
<line x1="303.98" y1="750.73" x2="309.18" y2="750.73" stroke="#0a0a0a" stroke-width="1.2" />
<line x1="304.38" y1="764.96" x2="308.78" y2="764.96" stroke="#0a0a0a" stroke-width="1.1" />
<circle cx="306.58" cy="765.26" r="1.15" fill="#111"/>
<circle cx="306.58" cy="753.58" r="1.0" fill="#111"/>
<rect x="315.48" y="757.62" width="6.70" height="58.98" fill="#db86bf" stroke="#0a0a0a" stroke-width="1.3" />
<line x1="318.83" y1="750.50" x2="318.83" y2="765.19" stroke="#0a0a0a" stroke-width="1.1" />
<line x1="316.23" y1="750.50" x2="321.43" y2="750.50" stroke="#0a0a0a" stroke-width="1.2" />
<line x1="316.63" y1="765.19" x2="321.03" y2="765.19" stroke="#0a0a0a" stroke-width="1.1" />
<circle cx="318.83" cy="765.49" r="1.15" fill="#111"/>
<circle cx="318.83" cy="753.44" r="1.0" fill="#111"/>
<rect x="327.73" y="778.96" width="6.70" height="37.64" fill="#c7db84" stroke="#0a0a0a" stroke-width="1.3" />
<line x1="331.08" y1="772.08" x2="331.08" y2="784.24" stroke="#0a0a0a" stroke-width="1.1" />
<line x1="328.48" y1="772.08" x2="333.68" y2="772.08" stroke="#0a0a0a" stroke-width="1.2" />
<line x1="328.88" y1="784.24" x2="333.28" y2="784.24" stroke="#0a0a0a" stroke-width="1.1" />
<circle cx="331.08" cy="784.54" r="1.15" fill="#111"/>
<circle cx="331.08" cy="774.51" r="1.0" fill="#111"/>
<line x1="347.51" y1="816.10" x2="355.51" y2="816.10" stroke="#0a0a0a" stroke-width="1.2" />
<line x1="359.76" y1="816.10" x2="367.76" y2="816.10" stroke="#0a0a0a" stroke-width="1.2" />
<line x1="372.01" y1="816.10" x2="380.01" y2="816.10" stroke="#0a0a0a" stroke-width="1.2" />
<polyline points="262.00,639.00 262.00,635.70 274.40,635.70 274.40,639.00" fill="none" stroke="#5c5c5c" stroke-width="1.0"/>
<text x="268.20" y="633.50" font-size="8.6" font-weight="normal" fill="#4a4a4a" text-anchor="middle" font-family="Liberation Sans" textLength="14.20" lengthAdjust="spacingAndGlyphs" stroke="#4a4a4a" stroke-width="0.15">n.s.</text>
<polyline points="262.00,625.70 262.00,622.40 286.60,622.40 286.60,625.70" fill="none" stroke="#5c5c5c" stroke-width="1.0"/>
<text x="274.30" y="626.40" font-size="14.2" font-weight="bold" fill="#2b2222" text-anchor="middle" font-family="Liberation Sans" stroke="#2b2222" stroke-width="0.35">*</text>
<polyline points="307.40,740.90 307.40,737.60 319.60,737.60 319.60,740.90" fill="none" stroke="#5c5c5c" stroke-width="1.0"/>
<text x="313.50" y="735.40" font-size="8.6" font-weight="normal" fill="#4a4a4a" text-anchor="middle" font-family="Liberation Sans" textLength="14.20" lengthAdjust="spacingAndGlyphs" stroke="#4a4a4a" stroke-width="0.15">n.s.</text>
<polyline points="307.40,727.70 307.40,724.40 332.00,724.40 332.00,727.70" fill="none" stroke="#5c5c5c" stroke-width="1.0"/>
<text x="319.70" y="728.40" font-size="14.2" font-weight="bold" fill="#2b2222" text-anchor="middle" font-family="Liberation Sans" stroke="#2b2222" stroke-width="0.35">*</text>
<text transform="translate(8.2,724.50) rotate(-90)" font-size="10.6" font-weight="bold" fill="#231f20" stroke="#231f20" stroke-width="0.25" text-anchor="middle" font-family="Liberation Sans" textLength="75.5" lengthAdjust="spacingAndGlyphs">% / Total reads</text>
<rect x="47.10" y="593.20" width="58.20" height="10.80" fill="#fff" stroke="#8e8e8e" stroke-width="1.2" />
<text transform="translate(76.20,602.20) scale(1.05,1)" font-size="11.8" font-weight="bold" fill="#c8102e" text-anchor="middle" font-family="Liberation Sans" stroke="#c8102e" stroke-width="0.28" textLength="49.33" lengthAdjust="spacingAndGlyphs">HNRNPA1</text>
<text transform="translate(131.80,603.00) scale(1.05,1)" font-size="12.2" font-weight="bold" fill="#231f20" text-anchor="start" font-family="Liberation Sans" stroke="#231f20" stroke-width="0.28" textLength="126.86" lengthAdjust="spacingAndGlyphs">Repair pattern (sorted)</text>
<rect x="49.50" y="632.90" width="16.30" height="9.20" fill="#5dc9f0" stroke="#3a3a3a" stroke-width="0.9" />
<text transform="translate(70.40,641.00) scale(1.05,1)" font-size="10.4" font-weight="bold" fill="#231f20" text-anchor="start" font-family="Liberation Sans" stroke="#231f20" stroke-width="0.28">NHEJi</text>
<rect x="49.50" y="648.50" width="16.30" height="9.20" fill="#db86bf" stroke="#3a3a3a" stroke-width="0.9" />
<text transform="translate(70.40,656.60) scale(1.05,1)" font-size="10.4" font-weight="bold" fill="#231f20" text-anchor="start" font-family="Liberation Sans" stroke="#231f20" stroke-width="0.28">NHEJi + ART558</text>
<rect x="49.50" y="664.10" width="16.30" height="9.20" fill="#c7db84" stroke="#3a3a3a" stroke-width="0.9" />
<text transform="translate(70.40,672.20) scale(1.05,1)" font-size="10.4" font-weight="bold" fill="#231f20" text-anchor="start" font-family="Liberation Sans" stroke="#231f20" stroke-width="0.28">NHEJi + D-I03</text>
<rect x="470.05" y="629.88" width="8.20" height="132.62" fill="#5dc9f0" stroke="#0a0a0a" stroke-width="1.3" />
<line x1="474.15" y1="629.46" x2="474.15" y2="630.29" stroke="#0a0a0a" stroke-width="1.1" />
<line x1="471.75" y1="629.46" x2="476.55" y2="629.46" stroke="#0a0a0a" stroke-width="1.2" />
<line x1="471.95" y1="630.29" x2="476.35" y2="630.29" stroke="#0a0a0a" stroke-width="1.1" />
<circle cx="474.15" cy="630.59" r="1.15" fill="#111"/>
<circle cx="474.15" cy="629.63" r="1.0" fill="#111"/>
<rect x="485.50" y="628.54" width="8.20" height="133.96" fill="#db86bf" stroke="#0a0a0a" stroke-width="1.3" />
<line x1="489.60" y1="627.62" x2="489.60" y2="629.12" stroke="#0a0a0a" stroke-width="1.1" />
<line x1="487.20" y1="627.62" x2="492.00" y2="627.62" stroke="#0a0a0a" stroke-width="1.2" />
<line x1="487.40" y1="629.12" x2="491.80" y2="629.12" stroke="#0a0a0a" stroke-width="1.1" />
<circle cx="489.60" cy="629.42" r="1.15" fill="#111"/>
<circle cx="489.60" cy="627.92" r="1.0" fill="#111"/>
<rect x="500.95" y="628.79" width="8.20" height="133.71" fill="#c7db84" stroke="#0a0a0a" stroke-width="1.3" />
<line x1="505.05" y1="627.87" x2="505.05" y2="629.46" stroke="#0a0a0a" stroke-width="1.1" />
<line x1="502.65" y1="627.87" x2="507.45" y2="627.87" stroke="#0a0a0a" stroke-width="1.2" />
<line x1="502.85" y1="629.46" x2="507.25" y2="629.46" stroke="#0a0a0a" stroke-width="1.1" />
<circle cx="505.05" cy="629.76" r="1.15" fill="#111"/>
<circle cx="505.05" cy="628.19" r="1.0" fill="#111"/>
<rect x="526.05" y="760.78" width="8.20" height="1.72" fill="#5dc9f0" stroke="#0a0a0a" stroke-width="1.3" />
<rect x="541.50" y="761.27" width="8.20" height="1.23" fill="#db86bf" stroke="#0a0a0a" stroke-width="1.3" />
<rect x="556.95" y="760.29" width="8.20" height="2.21" fill="#c7db84" stroke="#0a0a0a" stroke-width="1.3" />
<line x1="561.05" y1="758.58" x2="561.05" y2="761.03" stroke="#0a0a0a" stroke-width="1.1" />
<line x1="558.65" y1="758.58" x2="563.45" y2="758.58" stroke="#0a0a0a" stroke-width="1.2" />
<line x1="558.85" y1="761.03" x2="563.25" y2="761.03" stroke="#0a0a0a" stroke-width="1.1" />
<rect x="582.15" y="719.58" width="8.20" height="42.92" fill="#5dc9f0" stroke="#0a0a0a" stroke-width="1.3" />
<line x1="586.25" y1="712.96" x2="586.25" y2="725.22" stroke="#0a0a0a" stroke-width="1.1" />
<line x1="583.85" y1="712.96" x2="588.65" y2="712.96" stroke="#0a0a0a" stroke-width="1.2" />
<line x1="584.05" y1="725.22" x2="588.45" y2="725.22" stroke="#0a0a0a" stroke-width="1.1" />
<circle cx="586.25" cy="725.52" r="1.15" fill="#111"/>
<circle cx="586.25" cy="715.41" r="1.0" fill="#111"/>
<rect x="597.60" y="727.18" width="8.20" height="35.32" fill="#db86bf" stroke="#0a0a0a" stroke-width="1.3" />
<line x1="601.70" y1="718.36" x2="601.70" y2="736.01" stroke="#0a0a0a" stroke-width="1.1" />
<line x1="599.30" y1="718.36" x2="604.10" y2="718.36" stroke="#0a0a0a" stroke-width="1.2" />
<line x1="599.50" y1="736.01" x2="603.90" y2="736.01" stroke="#0a0a0a" stroke-width="1.1" />
<circle cx="601.70" cy="736.31" r="1.15" fill="#111"/>
<circle cx="601.70" cy="721.89" r="1.0" fill="#111"/>
<rect x="613.05" y="716.88" width="8.20" height="45.62" fill="#c7db84" stroke="#0a0a0a" stroke-width="1.3" />
<line x1="617.15" y1="710.02" x2="617.15" y2="722.77" stroke="#0a0a0a" stroke-width="1.1" />
<line x1="614.75" y1="710.02" x2="619.55" y2="710.02" stroke="#0a0a0a" stroke-width="1.2" />
<line x1="614.95" y1="722.77" x2="619.35" y2="722.77" stroke="#0a0a0a" stroke-width="1.1" />
<circle cx="617.15" cy="723.07" r="1.15" fill="#111"/>
<circle cx="617.15" cy="712.57" r="1.0" fill="#111"/>
<rect x="638.25" y="730.37" width="8.20" height="32.13" fill="#5dc9f0" stroke="#0a0a0a" stroke-width="1.3" />
<line x1="642.35" y1="723.26" x2="642.35" y2="737.98" stroke="#0a0a0a" stroke-width="1.1" />
<line x1="639.95" y1="723.26" x2="644.75" y2="723.26" stroke="#0a0a0a" stroke-width="1.2" />
<line x1="640.15" y1="737.98" x2="644.55" y2="737.98" stroke="#0a0a0a" stroke-width="1.1" />
<circle cx="642.35" cy="738.27" r="1.15" fill="#111"/>
<circle cx="642.35" cy="726.20" r="1.0" fill="#111"/>
<rect x="653.70" y="734.54" width="8.20" height="27.96" fill="#db86bf" stroke="#0a0a0a" stroke-width="1.3" />
<line x1="657.80" y1="733.56" x2="657.80" y2="735.52" stroke="#0a0a0a" stroke-width="1.1" />
<line x1="655.40" y1="733.56" x2="660.20" y2="733.56" stroke="#0a0a0a" stroke-width="1.2" />
<line x1="655.60" y1="735.52" x2="660.00" y2="735.52" stroke="#0a0a0a" stroke-width="1.1" />
<rect x="669.15" y="742.88" width="8.20" height="19.62" fill="#c7db84" stroke="#0a0a0a" stroke-width="1.3" />
<line x1="673.25" y1="738.47" x2="673.25" y2="747.29" stroke="#0a0a0a" stroke-width="1.1" />
<line x1="670.85" y1="738.47" x2="675.65" y2="738.47" stroke="#0a0a0a" stroke-width="1.2" />
<line x1="671.05" y1="747.29" x2="675.45" y2="747.29" stroke="#0a0a0a" stroke-width="1.1" />
<circle cx="673.25" cy="747.59" r="1.15" fill="#111"/>
<circle cx="673.25" cy="740.23" r="1.0" fill="#111"/>
<rect x="466.40" y="659.00" width="60.00" height="5.60" fill="#fff" stroke="none" stroke-width="1" />
<line x1="464.40" y1="615.90" x2="464.40" y2="656.85" stroke="#0a0a0a" stroke-width="1.5" />
<line x1="458.60" y1="616.60" x2="464.40" y2="616.60" stroke="#0a0a0a" stroke-width="1.3" />
<line x1="458.60" y1="624.95" x2="464.40" y2="624.95" stroke="#0a0a0a" stroke-width="1.3" />
<line x1="458.60" y1="633.30" x2="464.40" y2="633.30" stroke="#0a0a0a" stroke-width="1.3" />
<line x1="458.60" y1="641.65" x2="464.40" y2="641.65" stroke="#0a0a0a" stroke-width="1.3" />
<line x1="458.60" y1="650.00" x2="464.40" y2="650.00" stroke="#0a0a0a" stroke-width="1.3" />
<text transform="translate(457.60,619.80) scale(1.05,1)" font-size="9.0" font-weight="bold" fill="#231f20" text-anchor="end" font-family="Liberation Sans" stroke="#231f20" stroke-width="0.28" textLength="12.67" lengthAdjust="spacingAndGlyphs">100</text>
<text transform="translate(457.60,628.15) scale(1.05,1)" font-size="9.0" font-weight="bold" fill="#231f20" text-anchor="end" font-family="Liberation Sans" stroke="#231f20" stroke-width="0.28" textLength="8.76" lengthAdjust="spacingAndGlyphs">90</text>
<text transform="translate(457.60,636.50) scale(1.05,1)" font-size="9.0" font-weight="bold" fill="#231f20" text-anchor="end" font-family="Liberation Sans" stroke="#231f20" stroke-width="0.28" textLength="8.76" lengthAdjust="spacingAndGlyphs">80</text>
<text transform="translate(457.60,644.85) scale(1.05,1)" font-size="9.0" font-weight="bold" fill="#231f20" text-anchor="end" font-family="Liberation Sans" stroke="#231f20" stroke-width="0.28" textLength="8.76" lengthAdjust="spacingAndGlyphs">70</text>
<text transform="translate(457.60,653.20) scale(1.05,1)" font-size="9.0" font-weight="bold" fill="#231f20" text-anchor="end" font-family="Liberation Sans" stroke="#231f20" stroke-width="0.28" textLength="8.76" lengthAdjust="spacingAndGlyphs">60</text>
<text transform="translate(457.60,659.55) scale(1.05,1)" font-size="9.0" font-weight="bold" fill="#231f20" text-anchor="end" font-family="Liberation Sans" stroke="#231f20" stroke-width="0.28" textLength="8.76" lengthAdjust="spacingAndGlyphs">50</text>
<line x1="462.80" y1="656.85" x2="466.00" y2="659.95" stroke="#0a0a0a" stroke-width="1.1" />
<line x1="462.80" y1="663.20" x2="466.00" y2="667.00" stroke="#0a0a0a" stroke-width="1.1" />
<line x1="464.40" y1="666.80" x2="464.40" y2="762.50" stroke="#0a0a0a" stroke-width="1.5" />
<line x1="458.60" y1="688.92" x2="464.40" y2="688.92" stroke="#0a0a0a" stroke-width="1.3" />
<line x1="458.60" y1="713.45" x2="464.40" y2="713.45" stroke="#0a0a0a" stroke-width="1.3" />
<line x1="458.60" y1="737.98" x2="464.40" y2="737.98" stroke="#0a0a0a" stroke-width="1.3" />
<line x1="458.60" y1="762.50" x2="464.40" y2="762.50" stroke="#0a0a0a" stroke-width="1.3" />
<text transform="translate(457.60,667.60) scale(1.05,1)" font-size="9.0" font-weight="bold" fill="#231f20" text-anchor="end" font-family="Liberation Sans" stroke="#231f20" stroke-width="0.28" textLength="8.57" lengthAdjust="spacingAndGlyphs">20</text>
<text transform="translate(457.60,692.12) scale(1.05,1)" font-size="9.0" font-weight="bold" fill="#231f20" text-anchor="end" font-family="Liberation Sans" stroke="#231f20" stroke-width="0.28" textLength="8.57" lengthAdjust="spacingAndGlyphs">15</text>
<text transform="translate(457.60,716.65) scale(1.05,1)" font-size="9.0" font-weight="bold" fill="#231f20" text-anchor="end" font-family="Liberation Sans" stroke="#231f20" stroke-width="0.28" textLength="8.57" lengthAdjust="spacingAndGlyphs">10</text>
<text transform="translate(457.60,741.18) scale(1.05,1)" font-size="9.0" font-weight="bold" fill="#231f20" text-anchor="end" font-family="Liberation Sans" stroke="#231f20" stroke-width="0.28">5</text>
<text transform="translate(457.60,765.70) scale(1.05,1)" font-size="9.0" font-weight="bold" fill="#231f20" text-anchor="end" font-family="Liberation Sans" stroke="#231f20" stroke-width="0.28">0</text>
<line x1="461.00" y1="762.50" x2="682.80" y2="762.50" stroke="#0a0a0a" stroke-width="1.6" />
<line x1="489.60" y1="762.50" x2="489.60" y2="766.70" stroke="#0a0a0a" stroke-width="1.3" />
<text transform="translate(489.60,776.00) scale(1.05,1)" font-size="9.8" font-weight="bold" fill="#231f20" text-anchor="middle" font-family="Liberation Sans" stroke="#231f20" stroke-width="0.28">perfect</text>
<text transform="translate(489.60,787.80) scale(1.05,1)" font-size="9.8" font-weight="bold" fill="#231f20" text-anchor="middle" font-family="Liberation Sans" stroke="#231f20" stroke-width="0.28">HDR</text>
<line x1="545.60" y1="762.50" x2="545.60" y2="766.70" stroke="#0a0a0a" stroke-width="1.3" />
<text transform="translate(545.60,776.00) scale(1.05,1)" font-size="9.8" font-weight="bold" fill="#231f20" text-anchor="middle" font-family="Liberation Sans" stroke="#231f20" stroke-width="0.28">blunt</text>
<line x1="601.70" y1="762.50" x2="601.70" y2="766.70" stroke="#0a0a0a" stroke-width="1.3" />
<text transform="translate(601.70,776.00) scale(1.05,1)" font-size="9.8" font-weight="bold" fill="#231f20" text-anchor="middle" font-family="Liberation Sans" stroke="#231f20" stroke-width="0.28">asymmetric</text>
<text transform="translate(601.70,787.80) scale(1.05,1)" font-size="9.8" font-weight="bold" fill="#231f20" text-anchor="middle" font-family="Liberation Sans" stroke="#231f20" stroke-width="0.28">HDR</text>
<line x1="657.80" y1="762.50" x2="657.80" y2="766.70" stroke="#0a0a0a" stroke-width="1.3" />
<text transform="translate(657.80,776.00) scale(1.05,1)" font-size="9.8" font-weight="bold" fill="#231f20" text-anchor="middle" font-family="Liberation Sans" stroke="#231f20" stroke-width="0.28">imperfect</text>
<text transform="translate(442.3,687.7) rotate(-90)" font-size="10.6" font-weight="bold" fill="#231f20" text-anchor="middle" font-family="Liberation Sans" textLength="138" lengthAdjust="spacingAndGlyphs">% / single donor integration</text>
<rect x="469.15" y="848.12" width="8.20" height="126.18" fill="#5dc9f0" stroke="#0a0a0a" stroke-width="1.3" />
<line x1="473.25" y1="844.12" x2="473.25" y2="850.75" stroke="#0a0a0a" stroke-width="1.1" />
<line x1="470.85" y1="844.12" x2="475.65" y2="844.12" stroke="#0a0a0a" stroke-width="1.2" />
<line x1="471.05" y1="850.75" x2="475.45" y2="850.75" stroke="#0a0a0a" stroke-width="1.1" />
<circle cx="473.25" cy="851.05" r="1.15" fill="#111"/>
<circle cx="473.25" cy="845.45" r="1.0" fill="#111"/>
<rect x="484.60" y="847.35" width="8.20" height="126.95" fill="#db86bf" stroke="#0a0a0a" stroke-width="1.3" />
<line x1="488.70" y1="843.10" x2="488.70" y2="849.90" stroke="#0a0a0a" stroke-width="1.1" />
<line x1="486.30" y1="843.10" x2="491.10" y2="843.10" stroke="#0a0a0a" stroke-width="1.2" />
<line x1="486.50" y1="849.90" x2="490.90" y2="849.90" stroke="#0a0a0a" stroke-width="1.1" />
<circle cx="488.70" cy="850.20" r="1.15" fill="#111"/>
<circle cx="488.70" cy="844.46" r="1.0" fill="#111"/>
<rect x="500.05" y="839.87" width="8.20" height="134.43" fill="#c7db84" stroke="#0a0a0a" stroke-width="1.3" />
<line x1="504.15" y1="838.34" x2="504.15" y2="840.72" stroke="#0a0a0a" stroke-width="1.1" />
<line x1="501.75" y1="838.34" x2="506.55" y2="838.34" stroke="#0a0a0a" stroke-width="1.2" />
<line x1="501.95" y1="840.72" x2="506.35" y2="840.72" stroke="#0a0a0a" stroke-width="1.1" />
<circle cx="504.15" cy="841.02" r="1.15" fill="#111"/>
<circle cx="504.15" cy="838.82" r="1.0" fill="#111"/>
<rect x="525.05" y="969.86" width="8.20" height="4.44" fill="#5dc9f0" stroke="#0a0a0a" stroke-width="1.3" />
<line x1="529.15" y1="967.39" x2="529.15" y2="971.83" stroke="#0a0a0a" stroke-width="1.1" />
<line x1="526.75" y1="967.39" x2="531.55" y2="967.39" stroke="#0a0a0a" stroke-width="1.2" />
<line x1="526.95" y1="971.83" x2="531.35" y2="971.83" stroke="#0a0a0a" stroke-width="1.1" />
<circle cx="529.15" cy="972.13" r="1.15" fill="#111"/>
<circle cx="529.15" cy="968.28" r="1.0" fill="#111"/>
<rect x="540.50" y="969.86" width="8.20" height="4.44" fill="#db86bf" stroke="#0a0a0a" stroke-width="1.3" />
<line x1="544.60" y1="967.88" x2="544.60" y2="971.34" stroke="#0a0a0a" stroke-width="1.1" />
<line x1="542.20" y1="967.88" x2="547.00" y2="967.88" stroke="#0a0a0a" stroke-width="1.2" />
<line x1="542.40" y1="971.34" x2="546.80" y2="971.34" stroke="#0a0a0a" stroke-width="1.1" />
<rect x="555.95" y="972.82" width="8.20" height="1.48" fill="#c7db84" stroke="#0a0a0a" stroke-width="1.3" />
<rect x="580.75" y="903.24" width="8.20" height="71.06" fill="#5dc9f0" stroke="#0a0a0a" stroke-width="1.3" />
<line x1="584.85" y1="885.96" x2="584.85" y2="921.50" stroke="#0a0a0a" stroke-width="1.1" />
<line x1="582.45" y1="885.96" x2="587.25" y2="885.96" stroke="#0a0a0a" stroke-width="1.2" />
<line x1="582.65" y1="921.50" x2="587.05" y2="921.50" stroke="#0a0a0a" stroke-width="1.1" />
<circle cx="584.85" cy="921.80" r="1.15" fill="#111"/>
<circle cx="584.85" cy="893.07" r="1.0" fill="#111"/>
<rect x="596.20" y="912.12" width="8.20" height="62.18" fill="#db86bf" stroke="#0a0a0a" stroke-width="1.3" />
<line x1="600.30" y1="888.43" x2="600.30" y2="933.83" stroke="#0a0a0a" stroke-width="1.1" />
<line x1="597.90" y1="888.43" x2="602.70" y2="888.43" stroke="#0a0a0a" stroke-width="1.2" />
<line x1="598.10" y1="933.83" x2="602.50" y2="933.83" stroke="#0a0a0a" stroke-width="1.1" />
<circle cx="600.30" cy="934.13" r="1.15" fill="#111"/>
<circle cx="600.30" cy="897.51" r="1.0" fill="#111"/>
<rect x="611.65" y="932.35" width="8.20" height="41.95" fill="#c7db84" stroke="#0a0a0a" stroke-width="1.3" />
<line x1="615.75" y1="920.51" x2="615.75" y2="941.73" stroke="#0a0a0a" stroke-width="1.1" />
<line x1="613.35" y1="920.51" x2="618.15" y2="920.51" stroke="#0a0a0a" stroke-width="1.2" />
<line x1="613.55" y1="941.73" x2="617.95" y2="941.73" stroke="#0a0a0a" stroke-width="1.1" />
<circle cx="615.75" cy="942.03" r="1.15" fill="#111"/>
<circle cx="615.75" cy="924.75" r="1.0" fill="#111"/>
<rect x="637.05" y="938.77" width="8.20" height="35.53" fill="#5dc9f0" stroke="#0a0a0a" stroke-width="1.3" />
<line x1="641.15" y1="933.83" x2="641.15" y2="942.72" stroke="#0a0a0a" stroke-width="1.1" />
<line x1="638.75" y1="933.83" x2="643.55" y2="933.83" stroke="#0a0a0a" stroke-width="1.2" />
<line x1="638.95" y1="942.72" x2="643.35" y2="942.72" stroke="#0a0a0a" stroke-width="1.1" />
<circle cx="641.15" cy="943.02" r="1.15" fill="#111"/>
<circle cx="641.15" cy="935.61" r="1.0" fill="#111"/>
<rect x="652.50" y="935.31" width="8.20" height="38.99" fill="#db86bf" stroke="#0a0a0a" stroke-width="1.3" />
<line x1="656.60" y1="925.44" x2="656.60" y2="945.92" stroke="#0a0a0a" stroke-width="1.1" />
<line x1="654.20" y1="925.44" x2="659.00" y2="925.44" stroke="#0a0a0a" stroke-width="1.2" />
<line x1="654.40" y1="945.92" x2="658.80" y2="945.92" stroke="#0a0a0a" stroke-width="1.1" />
<circle cx="656.60" cy="946.22" r="1.15" fill="#111"/>
<circle cx="656.60" cy="929.54" r="1.0" fill="#111"/>
<rect x="667.95" y="952.09" width="8.20" height="22.21" fill="#c7db84" stroke="#0a0a0a" stroke-width="1.3" />
<line x1="672.05" y1="946.66" x2="672.05" y2="958.51" stroke="#0a0a0a" stroke-width="1.1" />
<line x1="669.65" y1="946.66" x2="674.45" y2="946.66" stroke="#0a0a0a" stroke-width="1.2" />
<line x1="669.85" y1="958.51" x2="674.25" y2="958.51" stroke="#0a0a0a" stroke-width="1.1" />
<circle cx="672.05" cy="958.81" r="1.15" fill="#111"/>
<circle cx="672.05" cy="949.03" r="1.0" fill="#111"/>
<rect x="465.80" y="870.20" width="60.00" height="6.40" fill="#fff" stroke="none" stroke-width="1" />
<line x1="463.80" y1="827.10" x2="463.80" y2="868.80" stroke="#0a0a0a" stroke-width="1.5" />
<line x1="458.00" y1="827.80" x2="463.80" y2="827.80" stroke="#0a0a0a" stroke-width="1.3" />
<line x1="458.00" y1="836.30" x2="463.80" y2="836.30" stroke="#0a0a0a" stroke-width="1.3" />
<line x1="458.00" y1="844.80" x2="463.80" y2="844.80" stroke="#0a0a0a" stroke-width="1.3" />
<line x1="458.00" y1="853.30" x2="463.80" y2="853.30" stroke="#0a0a0a" stroke-width="1.3" />
<line x1="458.00" y1="861.80" x2="463.80" y2="861.80" stroke="#0a0a0a" stroke-width="1.3" />
<text transform="translate(457.00,831.00) scale(1.05,1)" font-size="9.0" font-weight="bold" fill="#231f20" text-anchor="end" font-family="Liberation Sans" stroke="#231f20" stroke-width="0.28" textLength="12.67" lengthAdjust="spacingAndGlyphs">100</text>
<text transform="translate(457.00,839.50) scale(1.05,1)" font-size="9.0" font-weight="bold" fill="#231f20" text-anchor="end" font-family="Liberation Sans" stroke="#231f20" stroke-width="0.28" textLength="8.76" lengthAdjust="spacingAndGlyphs">90</text>
<text transform="translate(457.00,848.00) scale(1.05,1)" font-size="9.0" font-weight="bold" fill="#231f20" text-anchor="end" font-family="Liberation Sans" stroke="#231f20" stroke-width="0.28" textLength="8.76" lengthAdjust="spacingAndGlyphs">80</text>
<text transform="translate(457.00,856.50) scale(1.05,1)" font-size="9.0" font-weight="bold" fill="#231f20" text-anchor="end" font-family="Liberation Sans" stroke="#231f20" stroke-width="0.28" textLength="8.76" lengthAdjust="spacingAndGlyphs">70</text>
<text transform="translate(457.00,865.00) scale(1.05,1)" font-size="9.0" font-weight="bold" fill="#231f20" text-anchor="end" font-family="Liberation Sans" stroke="#231f20" stroke-width="0.28" textLength="8.76" lengthAdjust="spacingAndGlyphs">60</text>
<text transform="translate(457.00,871.50) scale(1.05,1)" font-size="9.0" font-weight="bold" fill="#231f20" text-anchor="end" font-family="Liberation Sans" stroke="#231f20" stroke-width="0.28" textLength="8.76" lengthAdjust="spacingAndGlyphs">50</text>
<line x1="462.20" y1="868.80" x2="465.40" y2="871.90" stroke="#0a0a0a" stroke-width="1.1" />
<line x1="462.20" y1="875.20" x2="465.40" y2="879.00" stroke="#0a0a0a" stroke-width="1.1" />
<line x1="463.80" y1="878.80" x2="463.80" y2="974.30" stroke="#0a0a0a" stroke-width="1.5" />
<line x1="458.00" y1="900.27" x2="463.80" y2="900.27" stroke="#0a0a0a" stroke-width="1.3" />
<line x1="458.00" y1="924.95" x2="463.80" y2="924.95" stroke="#0a0a0a" stroke-width="1.3" />
<line x1="458.00" y1="949.62" x2="463.80" y2="949.62" stroke="#0a0a0a" stroke-width="1.3" />
<line x1="458.00" y1="974.30" x2="463.80" y2="974.30" stroke="#0a0a0a" stroke-width="1.3" />
<text transform="translate(457.00,878.80) scale(1.05,1)" font-size="9.0" font-weight="bold" fill="#231f20" text-anchor="end" font-family="Liberation Sans" stroke="#231f20" stroke-width="0.28" textLength="8.57" lengthAdjust="spacingAndGlyphs">20</text>
<text transform="translate(457.00,903.48) scale(1.05,1)" font-size="9.0" font-weight="bold" fill="#231f20" text-anchor="end" font-family="Liberation Sans" stroke="#231f20" stroke-width="0.28" textLength="8.57" lengthAdjust="spacingAndGlyphs">15</text>
<text transform="translate(457.00,928.15) scale(1.05,1)" font-size="9.0" font-weight="bold" fill="#231f20" text-anchor="end" font-family="Liberation Sans" stroke="#231f20" stroke-width="0.28" textLength="8.57" lengthAdjust="spacingAndGlyphs">10</text>
<text transform="translate(457.00,952.83) scale(1.05,1)" font-size="9.0" font-weight="bold" fill="#231f20" text-anchor="end" font-family="Liberation Sans" stroke="#231f20" stroke-width="0.28">5</text>
<text transform="translate(457.00,977.50) scale(1.05,1)" font-size="9.0" font-weight="bold" fill="#231f20" text-anchor="end" font-family="Liberation Sans" stroke="#231f20" stroke-width="0.28">0</text>
<line x1="460.40" y1="974.30" x2="682.20" y2="974.30" stroke="#0a0a0a" stroke-width="1.6" />
<line x1="488.70" y1="974.30" x2="488.70" y2="978.50" stroke="#0a0a0a" stroke-width="1.3" />
<text transform="translate(489.50,987.80) scale(1.05,1)" font-size="9.8" font-weight="bold" fill="#231f20" text-anchor="middle" font-family="Liberation Sans" stroke="#231f20" stroke-width="0.28">perfect</text>
<text transform="translate(489.50,999.60) scale(1.05,1)" font-size="9.8" font-weight="bold" fill="#231f20" text-anchor="middle" font-family="Liberation Sans" stroke="#231f20" stroke-width="0.28">HDR</text>
<line x1="544.60" y1="974.30" x2="544.60" y2="978.50" stroke="#0a0a0a" stroke-width="1.3" />
<text transform="translate(545.40,987.80) scale(1.05,1)" font-size="9.8" font-weight="bold" fill="#231f20" text-anchor="middle" font-family="Liberation Sans" stroke="#231f20" stroke-width="0.28">blunt</text>
<line x1="600.30" y1="974.30" x2="600.30" y2="978.50" stroke="#0a0a0a" stroke-width="1.3" />
<text transform="translate(601.10,987.80) scale(1.05,1)" font-size="9.8" font-weight="bold" fill="#231f20" text-anchor="middle" font-family="Liberation Sans" stroke="#231f20" stroke-width="0.28">asymmetric</text>
<text transform="translate(601.10,999.60) scale(1.05,1)" font-size="9.8" font-weight="bold" fill="#231f20" text-anchor="middle" font-family="Liberation Sans" stroke="#231f20" stroke-width="0.28">HDR</text>
<line x1="656.60" y1="974.30" x2="656.60" y2="978.50" stroke="#0a0a0a" stroke-width="1.3" />
<text transform="translate(657.40,987.80) scale(1.05,1)" font-size="9.8" font-weight="bold" fill="#231f20" text-anchor="middle" font-family="Liberation Sans" stroke="#231f20" stroke-width="0.28">imperfect</text>
<text transform="translate(441.0,899.9) rotate(-90)" font-size="10.6" font-weight="bold" fill="#231f20" text-anchor="middle" font-family="Liberation Sans" textLength="138" lengthAdjust="spacingAndGlyphs">% / single donor integration</text>
<rect x="624.90" y="623.90" width="16.30" height="9.40" fill="#5dc9f0" stroke="#3a3a3a" stroke-width="0.9" />
<text transform="translate(646.00,632.20) scale(1.05,1)" font-size="10.4" font-weight="bold" fill="#231f20" text-anchor="start" font-family="Liberation Sans" stroke="#231f20" stroke-width="0.28">NHEJi</text>
<rect x="624.90" y="639.50" width="16.30" height="9.40" fill="#db86bf" stroke="#3a3a3a" stroke-width="0.9" />
<text transform="translate(646.00,647.80) scale(1.05,1)" font-size="10.4" font-weight="bold" fill="#231f20" text-anchor="start" font-family="Liberation Sans" stroke="#231f20" stroke-width="0.28">NHEJi + ART558</text>
<rect x="624.90" y="655.10" width="16.30" height="9.40" fill="#c7db84" stroke="#3a3a3a" stroke-width="0.9" />
<text transform="translate(646.00,663.40) scale(1.05,1)" font-size="10.4" font-weight="bold" fill="#231f20" text-anchor="start" font-family="Liberation Sans" stroke="#231f20" stroke-width="0.28">NHEJi + D-I03</text>
<rect x="421.00" y="590.00" width="57.90" height="10.80" fill="#fff" stroke="#8e8e8e" stroke-width="1.2" />
<text transform="translate(449.95,599.00) scale(1.05,1)" font-size="11.8" font-weight="bold" fill="#c8102e" text-anchor="middle" font-family="Liberation Sans" stroke="#c8102e" stroke-width="0.28" textLength="49.05" lengthAdjust="spacingAndGlyphs">HNRNPA1</text>
<text transform="translate(488.50,599.60) scale(1.05,1)" font-size="12.4" font-weight="bold" fill="#231f20" text-anchor="start" font-family="Liberation Sans" stroke="#231f20" stroke-width="0.28" textLength="176.19" lengthAdjust="spacingAndGlyphs">Integration pattern (non-sorted)</text>
<text transform="translate(490.80,811.00) scale(1.05,1)" font-size="12.4" font-weight="bold" fill="#231f20" text-anchor="start" font-family="Liberation Sans" stroke="#231f20" stroke-width="0.28" textLength="151.24" lengthAdjust="spacingAndGlyphs">Integration pattern (sorted)</text>
</svg>
</body></html>
